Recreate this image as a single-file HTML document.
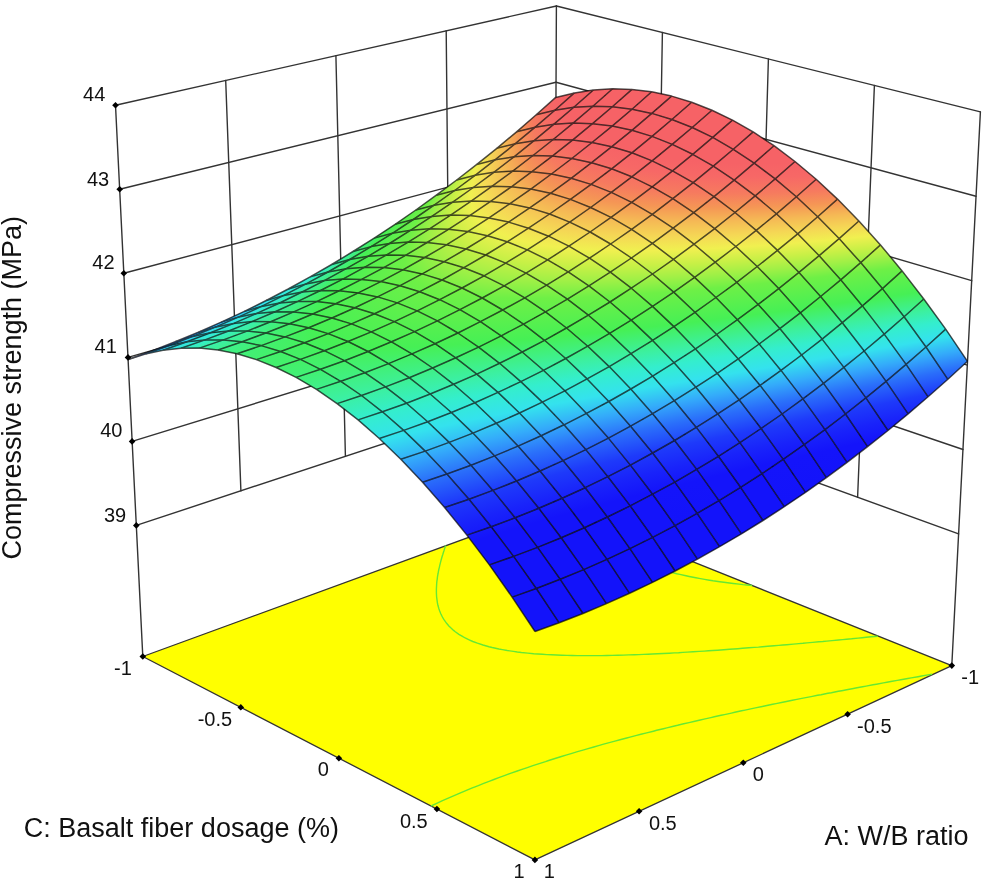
<!DOCTYPE html>
<html><head><meta charset="utf-8"><title>Response surface</title><style>html,body{margin:0;padding:0;background:#fff;width:982px;height:880px;overflow:hidden}</style></head>
<body><div style="position:relative;width:982px;height:880px"><svg width="982" height="880" viewBox="0 0 982 880" style="position:absolute;left:0;top:0"><defs><linearGradient id="g0" gradientUnits="userSpaceOnUse" x1="495.7" y1="563.0" x2="484.9" y2="528.7"><stop offset="0.000" stop-color="#1414fa"/><stop offset="0.757" stop-color="#1414fa"/><stop offset="1.000" stop-color="#161bfa"/></linearGradient><linearGradient id="g1" gradientUnits="userSpaceOnUse" x1="472.8" y1="533.3" x2="463.1" y2="501.0"><stop offset="0.000" stop-color="#161afa"/><stop offset="0.370" stop-color="#1923fa"/><stop offset="1.000" stop-color="#1e38fa"/></linearGradient><linearGradient id="g2" gradientUnits="userSpaceOnUse" x1="450.1" y1="506.0" x2="441.4" y2="475.6"><stop offset="0.000" stop-color="#1d37fa"/><stop offset="0.093" stop-color="#1e3afa"/><stop offset="0.953" stop-color="#2a6efa"/><stop offset="1.000" stop-color="#2b72fa"/></linearGradient><linearGradient id="g3" gradientUnits="userSpaceOnUse" x1="427.8" y1="480.9" x2="420.0" y2="452.5"><stop offset="0.000" stop-color="#2a6efa"/><stop offset="0.289" stop-color="#2e82fa"/><stop offset="0.876" stop-color="#34acfa"/><stop offset="1.000" stop-color="#34b4f8"/></linearGradient><linearGradient id="g4" gradientUnits="userSpaceOnUse" x1="405.7" y1="458.0" x2="398.9" y2="431.6"><stop offset="0.000" stop-color="#34b1f9"/><stop offset="0.829" stop-color="#34e2ee"/><stop offset="1.000" stop-color="#34e4e8"/></linearGradient><linearGradient id="g5" gradientUnits="userSpaceOnUse" x1="383.8" y1="437.4" x2="378.0" y2="412.9"><stop offset="0.000" stop-color="#34e3ea"/><stop offset="0.948" stop-color="#34eecd"/><stop offset="1.000" stop-color="#34eeca"/></linearGradient><linearGradient id="g6" gradientUnits="userSpaceOnUse" x1="362.2" y1="419.0" x2="357.3" y2="396.4"><stop offset="0.000" stop-color="#34eece"/><stop offset="0.050" stop-color="#34eecd"/><stop offset="1.000" stop-color="#3bf0a4"/></linearGradient><linearGradient id="g7" gradientUnits="userSpaceOnUse" x1="340.9" y1="402.9" x2="337.1" y2="382.0"><stop offset="0.000" stop-color="#3af0aa"/><stop offset="0.283" stop-color="#3cf0a0"/><stop offset="1.000" stop-color="#40f086"/></linearGradient><linearGradient id="g8" gradientUnits="userSpaceOnUse" x1="319.7" y1="389.0" x2="317.2" y2="369.7"><stop offset="0.000" stop-color="#3ff08c"/><stop offset="1.000" stop-color="#42f071"/></linearGradient><linearGradient id="g9" gradientUnits="userSpaceOnUse" x1="298.4" y1="377.3" x2="298.1" y2="359.4"><stop offset="0.000" stop-color="#41f078"/><stop offset="1.000" stop-color="#44f067"/></linearGradient><linearGradient id="g10" gradientUnits="userSpaceOnUse" x1="274.6" y1="367.8" x2="282.2" y2="351.1"><stop offset="0.000" stop-color="#43f06f"/><stop offset="1.000" stop-color="#44f067"/></linearGradient><linearGradient id="g11" gradientUnits="userSpaceOnUse" x1="244.5" y1="342.8" x2="273.2" y2="362.4"><stop offset="0.000" stop-color="#41f07a"/><stop offset="1.000" stop-color="#44f067"/></linearGradient><linearGradient id="g12" gradientUnits="userSpaceOnUse" x1="234.5" y1="339.7" x2="244.7" y2="355.9"><stop offset="0.000" stop-color="#3ef08f"/><stop offset="1.000" stop-color="#42f071"/></linearGradient><linearGradient id="g13" gradientUnits="userSpaceOnUse" x1="217.9" y1="339.1" x2="223.5" y2="350.8"><stop offset="0.000" stop-color="#3aefae"/><stop offset="0.367" stop-color="#3cf0a0"/><stop offset="1.000" stop-color="#3ff086"/></linearGradient><linearGradient id="g14" gradientUnits="userSpaceOnUse" x1="200.4" y1="339.9" x2="203.9" y2="348.2"><stop offset="0.000" stop-color="#34ecd2"/><stop offset="0.163" stop-color="#34eecd"/><stop offset="1.000" stop-color="#3bf0a4"/></linearGradient><linearGradient id="g15" gradientUnits="userSpaceOnUse" x1="182.9" y1="342.3" x2="185.1" y2="347.8"><stop offset="0.000" stop-color="#34e1ee"/><stop offset="0.015" stop-color="#34e2ee"/><stop offset="0.958" stop-color="#34eecd"/><stop offset="1.000" stop-color="#34eecb"/></linearGradient><linearGradient id="g16" gradientUnits="userSpaceOnUse" x1="165.5" y1="346.3" x2="166.7" y2="349.4"><stop offset="0.000" stop-color="#34a9fa"/><stop offset="0.043" stop-color="#34acfa"/><stop offset="0.848" stop-color="#34e2ee"/><stop offset="1.000" stop-color="#34e4e8"/></linearGradient><linearGradient id="g17" gradientUnits="userSpaceOnUse" x1="148.4" y1="352.1" x2="148.8" y2="352.9"><stop offset="0.000" stop-color="#296afa"/><stop offset="0.063" stop-color="#2a6efa"/><stop offset="0.325" stop-color="#2e82fa"/><stop offset="0.850" stop-color="#34acfa"/><stop offset="1.000" stop-color="#34b7f7"/></linearGradient><linearGradient id="g18" gradientUnits="userSpaceOnUse" x1="519.7" y1="554.6" x2="509.1" y2="519.6"><stop offset="0.000" stop-color="#1414fa"/><stop offset="0.715" stop-color="#1414fa"/><stop offset="1.000" stop-color="#171cfa"/></linearGradient><linearGradient id="g19" gradientUnits="userSpaceOnUse" x1="496.8" y1="525.1" x2="487.3" y2="492.0"><stop offset="0.000" stop-color="#161bfa"/><stop offset="0.332" stop-color="#1923fa"/><stop offset="0.990" stop-color="#1e3afa"/><stop offset="1.000" stop-color="#1e3bfa"/></linearGradient><linearGradient id="g20" gradientUnits="userSpaceOnUse" x1="474.2" y1="497.8" x2="465.7" y2="466.7"><stop offset="0.000" stop-color="#1e38fa"/><stop offset="0.054" stop-color="#1e3afa"/><stop offset="0.883" stop-color="#2a6efa"/><stop offset="1.000" stop-color="#2c77fa"/></linearGradient><linearGradient id="g21" gradientUnits="userSpaceOnUse" x1="451.8" y1="472.8" x2="444.3" y2="443.6"><stop offset="0.000" stop-color="#2b72fa"/><stop offset="0.231" stop-color="#2e82fa"/><stop offset="0.794" stop-color="#34acfa"/><stop offset="1.000" stop-color="#34bbf7"/></linearGradient><linearGradient id="g22" gradientUnits="userSpaceOnUse" x1="429.7" y1="450.0" x2="423.2" y2="422.8"><stop offset="0.000" stop-color="#34b4f8"/><stop offset="0.730" stop-color="#34e2ee"/><stop offset="1.000" stop-color="#34e6e4"/></linearGradient><linearGradient id="g23" gradientUnits="userSpaceOnUse" x1="407.8" y1="429.5" x2="402.3" y2="404.1"><stop offset="0.000" stop-color="#34e4e8"/><stop offset="0.816" stop-color="#34eecd"/><stop offset="1.000" stop-color="#36eec3"/></linearGradient><linearGradient id="g24" gradientUnits="userSpaceOnUse" x1="386.2" y1="411.1" x2="381.8" y2="387.6"><stop offset="0.000" stop-color="#34eeca"/><stop offset="0.919" stop-color="#3cf0a0"/><stop offset="1.000" stop-color="#3df09c"/></linearGradient><linearGradient id="g25" gradientUnits="userSpaceOnUse" x1="364.8" y1="395.0" x2="361.5" y2="373.2"><stop offset="0.000" stop-color="#3bf0a4"/><stop offset="0.114" stop-color="#3cf0a0"/><stop offset="1.000" stop-color="#41f07d"/></linearGradient><linearGradient id="g26" gradientUnits="userSpaceOnUse" x1="343.6" y1="381.1" x2="341.7" y2="360.9"><stop offset="0.000" stop-color="#40f086"/><stop offset="1.000" stop-color="#44f067"/></linearGradient><linearGradient id="g27" gradientUnits="userSpaceOnUse" x1="322.2" y1="369.3" x2="322.6" y2="350.7"><stop offset="0.000" stop-color="#42f071"/><stop offset="1.000" stop-color="#45f05d"/></linearGradient><linearGradient id="g28" gradientUnits="userSpaceOnUse" x1="299.5" y1="359.0" x2="305.5" y2="343.2"><stop offset="0.000" stop-color="#44f067"/><stop offset="1.000" stop-color="#45f05c"/></linearGradient><linearGradient id="g29" gradientUnits="userSpaceOnUse" x1="261.8" y1="341.4" x2="304.0" y2="347.0"><stop offset="0.000" stop-color="#42f071"/><stop offset="1.000" stop-color="#45f05c"/></linearGradient><linearGradient id="g30" gradientUnits="userSpaceOnUse" x1="255.5" y1="330.1" x2="271.7" y2="348.6"><stop offset="0.000" stop-color="#3ff086"/><stop offset="1.000" stop-color="#44f065"/></linearGradient><linearGradient id="g31" gradientUnits="userSpaceOnUse" x1="240.6" y1="329.6" x2="248.8" y2="343.3"><stop offset="0.000" stop-color="#3bf0a5"/><stop offset="0.114" stop-color="#3cf0a0"/><stop offset="1.000" stop-color="#41f07a"/></linearGradient><linearGradient id="g32" gradientUnits="userSpaceOnUse" x1="223.6" y1="330.6" x2="228.5" y2="340.4"><stop offset="0.000" stop-color="#34eecb"/><stop offset="0.850" stop-color="#3cf0a0"/><stop offset="1.000" stop-color="#3df098"/></linearGradient><linearGradient id="g33" gradientUnits="userSpaceOnUse" x1="206.3" y1="333.0" x2="209.3" y2="339.7"><stop offset="0.000" stop-color="#34e4e8"/><stop offset="0.751" stop-color="#34eecd"/><stop offset="1.000" stop-color="#37efbe"/></linearGradient><linearGradient id="g34" gradientUnits="userSpaceOnUse" x1="189.0" y1="337.1" x2="190.7" y2="341.1"><stop offset="0.000" stop-color="#34b4f8"/><stop offset="0.667" stop-color="#34e2ee"/><stop offset="1.000" stop-color="#34e7e0"/></linearGradient><linearGradient id="g35" gradientUnits="userSpaceOnUse" x1="171.9" y1="342.9" x2="172.6" y2="344.5"><stop offset="0.000" stop-color="#2b72fa"/><stop offset="0.197" stop-color="#2e82fa"/><stop offset="0.706" stop-color="#34acfa"/><stop offset="1.000" stop-color="#34c3f5"/></linearGradient><linearGradient id="g36" gradientUnits="userSpaceOnUse" x1="543.4" y1="545.7" x2="533.0" y2="509.9"><stop offset="0.000" stop-color="#1414fa"/><stop offset="0.652" stop-color="#1414fa"/><stop offset="1.000" stop-color="#171efa"/></linearGradient><linearGradient id="g37" gradientUnits="userSpaceOnUse" x1="520.5" y1="516.3" x2="511.2" y2="482.5"><stop offset="0.000" stop-color="#171cfa"/><stop offset="0.269" stop-color="#1923fa"/><stop offset="0.906" stop-color="#1e3afa"/><stop offset="1.000" stop-color="#2041fa"/></linearGradient><linearGradient id="g38" gradientUnits="userSpaceOnUse" x1="497.9" y1="489.1" x2="489.7" y2="457.2"><stop offset="0.000" stop-color="#1e3bfa"/><stop offset="0.789" stop-color="#2a6efa"/><stop offset="1.000" stop-color="#2d7ffa"/></linearGradient><linearGradient id="g39" gradientUnits="userSpaceOnUse" x1="475.5" y1="464.2" x2="468.3" y2="434.2"><stop offset="0.000" stop-color="#2c77fa"/><stop offset="0.145" stop-color="#2e82fa"/><stop offset="0.685" stop-color="#34acfa"/><stop offset="1.000" stop-color="#34c3f5"/></linearGradient><linearGradient id="g40" gradientUnits="userSpaceOnUse" x1="453.4" y1="441.4" x2="447.2" y2="413.4"><stop offset="0.000" stop-color="#34bbf7"/><stop offset="0.602" stop-color="#34e2ee"/><stop offset="1.000" stop-color="#34e8de"/></linearGradient><linearGradient id="g41" gradientUnits="userSpaceOnUse" x1="431.5" y1="420.9" x2="426.4" y2="394.8"><stop offset="0.000" stop-color="#34e6e4"/><stop offset="0.654" stop-color="#34eecd"/><stop offset="1.000" stop-color="#38efb9"/></linearGradient><linearGradient id="g42" gradientUnits="userSpaceOnUse" x1="409.9" y1="402.6" x2="405.8" y2="378.3"><stop offset="0.000" stop-color="#36eec3"/><stop offset="0.710" stop-color="#3cf0a0"/><stop offset="1.000" stop-color="#3ef091"/></linearGradient><linearGradient id="g43" gradientUnits="userSpaceOnUse" x1="388.5" y1="386.5" x2="385.6" y2="363.9"><stop offset="0.000" stop-color="#3df09c"/><stop offset="1.000" stop-color="#42f071"/></linearGradient><linearGradient id="g44" gradientUnits="userSpaceOnUse" x1="367.1" y1="372.6" x2="365.8" y2="351.7"><stop offset="0.000" stop-color="#41f07d"/><stop offset="1.000" stop-color="#45f05b"/></linearGradient><linearGradient id="g45" gradientUnits="userSpaceOnUse" x1="345.7" y1="360.7" x2="346.7" y2="341.5"><stop offset="0.000" stop-color="#44f067"/><stop offset="0.765" stop-color="#46f055"/><stop offset="1.000" stop-color="#48f054"/></linearGradient><linearGradient id="g46" gradientUnits="userSpaceOnUse" x1="323.4" y1="350.4" x2="329.1" y2="333.9"><stop offset="0.000" stop-color="#45f05d"/><stop offset="0.526" stop-color="#46f055"/><stop offset="1.000" stop-color="#49f054"/></linearGradient><linearGradient id="g47" gradientUnits="userSpaceOnUse" x1="286.5" y1="341.5" x2="326.7" y2="329.0"><stop offset="0.000" stop-color="#44f066"/><stop offset="0.698" stop-color="#46f055"/><stop offset="1.000" stop-color="#49f054"/></linearGradient><linearGradient id="g48" gradientUnits="userSpaceOnUse" x1="274.9" y1="321.1" x2="299.7" y2="339.6"><stop offset="0.000" stop-color="#41f07a"/><stop offset="1.000" stop-color="#46f057"/></linearGradient><linearGradient id="g49" gradientUnits="userSpaceOnUse" x1="262.4" y1="319.6" x2="274.2" y2="335.2"><stop offset="0.000" stop-color="#3df098"/><stop offset="1.000" stop-color="#43f06a"/></linearGradient><linearGradient id="g50" gradientUnits="userSpaceOnUse" x1="246.2" y1="320.7" x2="253.0" y2="332.1"><stop offset="0.000" stop-color="#37efbe"/><stop offset="0.576" stop-color="#3cf0a0"/><stop offset="1.000" stop-color="#3ff088"/></linearGradient><linearGradient id="g51" gradientUnits="userSpaceOnUse" x1="229.2" y1="323.2" x2="233.3" y2="331.2"><stop offset="0.000" stop-color="#34e7e0"/><stop offset="0.516" stop-color="#34eecd"/><stop offset="1.000" stop-color="#39efaf"/></linearGradient><linearGradient id="g52" gradientUnits="userSpaceOnUse" x1="212.1" y1="327.4" x2="214.4" y2="332.4"><stop offset="0.000" stop-color="#34c1f5"/><stop offset="0.460" stop-color="#34e2ee"/><stop offset="1.000" stop-color="#34ebd7"/></linearGradient><linearGradient id="g53" gradientUnits="userSpaceOnUse" x1="195.0" y1="333.2" x2="196.1" y2="335.6"><stop offset="0.000" stop-color="#2e80fa"/><stop offset="0.028" stop-color="#2e82fa"/><stop offset="0.523" stop-color="#34acfa"/><stop offset="1.000" stop-color="#34d3f1"/></linearGradient><linearGradient id="g54" gradientUnits="userSpaceOnUse" x1="566.7" y1="536.3" x2="556.6" y2="499.8"><stop offset="0.000" stop-color="#1414fa"/><stop offset="0.568" stop-color="#1414fa"/><stop offset="1.000" stop-color="#1821fa"/></linearGradient><linearGradient id="g55" gradientUnits="userSpaceOnUse" x1="543.9" y1="506.9" x2="534.9" y2="472.4"><stop offset="0.000" stop-color="#171efa"/><stop offset="0.185" stop-color="#1923fa"/><stop offset="0.802" stop-color="#1e3afa"/><stop offset="1.000" stop-color="#2149fa"/></linearGradient><linearGradient id="g56" gradientUnits="userSpaceOnUse" x1="521.3" y1="479.8" x2="513.3" y2="447.2"><stop offset="0.000" stop-color="#2041fa"/><stop offset="0.672" stop-color="#2a6efa"/><stop offset="0.906" stop-color="#2e82fa"/><stop offset="1.000" stop-color="#2f8afa"/></linearGradient><linearGradient id="g57" gradientUnits="userSpaceOnUse" x1="499.0" y1="455.0" x2="492.0" y2="424.3"><stop offset="0.000" stop-color="#2d7ffa"/><stop offset="0.033" stop-color="#2e82fa"/><stop offset="0.553" stop-color="#34acfa"/><stop offset="1.000" stop-color="#34cef2"/></linearGradient><linearGradient id="g58" gradientUnits="userSpaceOnUse" x1="476.8" y1="432.3" x2="471.0" y2="403.5"><stop offset="0.000" stop-color="#34c3f5"/><stop offset="0.448" stop-color="#34e2ee"/><stop offset="1.000" stop-color="#34ead7"/></linearGradient><linearGradient id="g59" gradientUnits="userSpaceOnUse" x1="454.9" y1="411.8" x2="450.1" y2="384.9"><stop offset="0.000" stop-color="#34e8de"/><stop offset="0.467" stop-color="#34eecd"/><stop offset="1.000" stop-color="#3aefac"/></linearGradient><linearGradient id="g60" gradientUnits="userSpaceOnUse" x1="433.3" y1="393.6" x2="429.6" y2="368.5"><stop offset="0.000" stop-color="#38efb9"/><stop offset="0.477" stop-color="#3cf0a0"/><stop offset="1.000" stop-color="#40f082"/></linearGradient><linearGradient id="g61" gradientUnits="userSpaceOnUse" x1="411.8" y1="377.5" x2="409.4" y2="354.1"><stop offset="0.000" stop-color="#3ef091"/><stop offset="1.000" stop-color="#44f062"/></linearGradient><linearGradient id="g62" gradientUnits="userSpaceOnUse" x1="390.4" y1="363.5" x2="389.6" y2="341.9"><stop offset="0.000" stop-color="#42f071"/><stop offset="0.742" stop-color="#46f055"/><stop offset="1.000" stop-color="#4af054"/></linearGradient><linearGradient id="g63" gradientUnits="userSpaceOnUse" x1="369.0" y1="351.6" x2="370.5" y2="331.8"><stop offset="0.000" stop-color="#45f05b"/><stop offset="0.211" stop-color="#46f055"/><stop offset="1.000" stop-color="#4ff052"/></linearGradient><linearGradient id="g64" gradientUnits="userSpaceOnUse" x1="347.0" y1="341.2" x2="352.5" y2="324.2"><stop offset="0.000" stop-color="#48f054"/><stop offset="1.000" stop-color="#4ff052"/></linearGradient><linearGradient id="g65" gradientUnits="userSpaceOnUse" x1="314.5" y1="336.3" x2="345.6" y2="315.2"><stop offset="0.000" stop-color="#46f057"/><stop offset="0.078" stop-color="#46f055"/><stop offset="1.000" stop-color="#4ff051"/></linearGradient><linearGradient id="g66" gradientUnits="userSpaceOnUse" x1="293.5" y1="313.9" x2="327.9" y2="327.8"><stop offset="0.000" stop-color="#43f06a"/><stop offset="0.582" stop-color="#46f055"/><stop offset="1.000" stop-color="#4cf053"/></linearGradient><linearGradient id="g67" gradientUnits="userSpaceOnUse" x1="283.3" y1="309.3" x2="299.9" y2="326.4"><stop offset="0.000" stop-color="#3ff088"/><stop offset="1.000" stop-color="#46f058"/></linearGradient><linearGradient id="g68" gradientUnits="userSpaceOnUse" x1="268.3" y1="310.2" x2="277.4" y2="323.3"><stop offset="0.000" stop-color="#39efaf"/><stop offset="0.274" stop-color="#3cf0a0"/><stop offset="1.000" stop-color="#42f075"/></linearGradient><linearGradient id="g69" gradientUnits="userSpaceOnUse" x1="251.7" y1="312.9" x2="257.2" y2="322.2"><stop offset="0.000" stop-color="#34ead7"/><stop offset="0.254" stop-color="#34eecd"/><stop offset="0.951" stop-color="#3cf0a0"/><stop offset="1.000" stop-color="#3cf09d"/></linearGradient><linearGradient id="g70" gradientUnits="userSpaceOnUse" x1="234.8" y1="317.1" x2="238.0" y2="323.2"><stop offset="0.000" stop-color="#34d1f2"/><stop offset="0.227" stop-color="#34e2ee"/><stop offset="0.967" stop-color="#34eecd"/><stop offset="1.000" stop-color="#34eecb"/></linearGradient><linearGradient id="g71" gradientUnits="userSpaceOnUse" x1="217.8" y1="322.9" x2="219.4" y2="326.3"><stop offset="0.000" stop-color="#3091fa"/><stop offset="0.313" stop-color="#34acfa"/><stop offset="0.966" stop-color="#34e2ee"/><stop offset="1.000" stop-color="#34e3ec"/></linearGradient><linearGradient id="g72" gradientUnits="userSpaceOnUse" x1="589.8" y1="526.3" x2="579.8" y2="489.1"><stop offset="0.000" stop-color="#1414fa"/><stop offset="0.466" stop-color="#1414fa"/><stop offset="0.960" stop-color="#1923fa"/><stop offset="1.000" stop-color="#1925fa"/></linearGradient><linearGradient id="g73" gradientUnits="userSpaceOnUse" x1="567.0" y1="497.0" x2="558.2" y2="461.8"><stop offset="0.000" stop-color="#1821fa"/><stop offset="0.081" stop-color="#1923fa"/><stop offset="0.679" stop-color="#1e3afa"/><stop offset="1.000" stop-color="#2453fa"/></linearGradient><linearGradient id="g74" gradientUnits="userSpaceOnUse" x1="544.4" y1="470.0" x2="536.7" y2="436.7"><stop offset="0.000" stop-color="#2149fa"/><stop offset="0.535" stop-color="#2a6efa"/><stop offset="0.761" stop-color="#2e82fa"/><stop offset="1.000" stop-color="#3198fa"/></linearGradient><linearGradient id="g75" gradientUnits="userSpaceOnUse" x1="522.1" y1="445.2" x2="515.4" y2="413.8"><stop offset="0.000" stop-color="#2f8afa"/><stop offset="0.399" stop-color="#34acfa"/><stop offset="1.000" stop-color="#34dcef"/></linearGradient><linearGradient id="g76" gradientUnits="userSpaceOnUse" x1="499.9" y1="422.6" x2="494.4" y2="393.1"><stop offset="0.000" stop-color="#34cef2"/><stop offset="0.273" stop-color="#34e2ee"/><stop offset="1.000" stop-color="#34eece"/></linearGradient><linearGradient id="g77" gradientUnits="userSpaceOnUse" x1="478.0" y1="402.2" x2="473.6" y2="374.6"><stop offset="0.000" stop-color="#34ead7"/><stop offset="0.258" stop-color="#34eecd"/><stop offset="0.958" stop-color="#3cf0a0"/><stop offset="1.000" stop-color="#3cf09d"/></linearGradient><linearGradient id="g78" gradientUnits="userSpaceOnUse" x1="456.3" y1="383.9" x2="453.1" y2="358.2"><stop offset="0.000" stop-color="#3aefac"/><stop offset="0.224" stop-color="#3cf0a0"/><stop offset="1.000" stop-color="#42f072"/></linearGradient><linearGradient id="g79" gradientUnits="userSpaceOnUse" x1="434.8" y1="367.8" x2="432.9" y2="343.9"><stop offset="0.000" stop-color="#40f082"/><stop offset="0.906" stop-color="#46f055"/><stop offset="1.000" stop-color="#48f054"/></linearGradient><linearGradient id="g80" gradientUnits="userSpaceOnUse" x1="413.5" y1="353.9" x2="413.1" y2="331.7"><stop offset="0.000" stop-color="#44f062"/><stop offset="0.316" stop-color="#46f055"/><stop offset="1.000" stop-color="#51f051"/></linearGradient><linearGradient id="g81" gradientUnits="userSpaceOnUse" x1="392.1" y1="341.9" x2="393.9" y2="321.6"><stop offset="0.000" stop-color="#4af054"/><stop offset="1.000" stop-color="#56f04f"/></linearGradient><linearGradient id="g82" gradientUnits="userSpaceOnUse" x1="370.3" y1="331.5" x2="375.6" y2="314.0"><stop offset="0.000" stop-color="#4ff052"/><stop offset="1.000" stop-color="#57f04f"/></linearGradient><linearGradient id="g83" gradientUnits="userSpaceOnUse" x1="341.4" y1="327.5" x2="365.0" y2="304.1"><stop offset="0.000" stop-color="#4cf053"/><stop offset="1.000" stop-color="#57f04f"/></linearGradient><linearGradient id="g84" gradientUnits="userSpaceOnUse" x1="313.2" y1="308.7" x2="354.4" y2="313.0"><stop offset="0.000" stop-color="#46f058"/><stop offset="0.088" stop-color="#46f055"/><stop offset="1.000" stop-color="#54f050"/></linearGradient><linearGradient id="g85" gradientUnits="userSpaceOnUse" x1="303.3" y1="299.2" x2="326.0" y2="316.4"><stop offset="0.000" stop-color="#42f075"/><stop offset="0.650" stop-color="#46f055"/><stop offset="1.000" stop-color="#4df052"/></linearGradient><linearGradient id="g86" gradientUnits="userSpaceOnUse" x1="289.7" y1="299.4" x2="302.0" y2="313.9"><stop offset="0.000" stop-color="#3cf09d"/><stop offset="1.000" stop-color="#45f060"/></linearGradient><linearGradient id="g87" gradientUnits="userSpaceOnUse" x1="273.8" y1="302.0" x2="281.0" y2="312.7"><stop offset="0.000" stop-color="#34eecb"/><stop offset="0.644" stop-color="#3cf0a0"/><stop offset="1.000" stop-color="#3ff086"/></linearGradient><linearGradient id="g88" gradientUnits="userSpaceOnUse" x1="257.1" y1="306.3" x2="261.3" y2="313.6"><stop offset="0.000" stop-color="#34e2ed"/><stop offset="0.693" stop-color="#34eecd"/><stop offset="1.000" stop-color="#38efb5"/></linearGradient><linearGradient id="g89" gradientUnits="userSpaceOnUse" x1="240.2" y1="312.1" x2="242.5" y2="316.4"><stop offset="0.000" stop-color="#33a5fa"/><stop offset="0.081" stop-color="#34acfa"/><stop offset="0.719" stop-color="#34e2ee"/><stop offset="1.000" stop-color="#34e7df"/></linearGradient><linearGradient id="g90" gradientUnits="userSpaceOnUse" x1="612.5" y1="515.7" x2="602.8" y2="478.0"><stop offset="0.000" stop-color="#1414fa"/><stop offset="0.348" stop-color="#1414fa"/><stop offset="0.828" stop-color="#1923fa"/><stop offset="1.000" stop-color="#1b2afa"/></linearGradient><linearGradient id="g91" gradientUnits="userSpaceOnUse" x1="589.8" y1="486.6" x2="581.2" y2="450.7"><stop offset="0.000" stop-color="#1925fa"/><stop offset="0.539" stop-color="#1e3afa"/><stop offset="1.000" stop-color="#265efa"/></linearGradient><linearGradient id="g92" gradientUnits="userSpaceOnUse" x1="567.2" y1="459.7" x2="559.8" y2="425.7"><stop offset="0.000" stop-color="#2453fa"/><stop offset="0.381" stop-color="#2a6efa"/><stop offset="0.599" stop-color="#2e82fa"/><stop offset="1.000" stop-color="#33a8fa"/></linearGradient><linearGradient id="g93" gradientUnits="userSpaceOnUse" x1="544.9" y1="434.9" x2="538.5" y2="402.9"><stop offset="0.000" stop-color="#3198fa"/><stop offset="0.227" stop-color="#34acfa"/><stop offset="0.877" stop-color="#34e2ee"/><stop offset="1.000" stop-color="#34e4e8"/></linearGradient><linearGradient id="g94" gradientUnits="userSpaceOnUse" x1="522.8" y1="412.4" x2="517.5" y2="382.2"><stop offset="0.000" stop-color="#34dcef"/><stop offset="0.079" stop-color="#34e2ee"/><stop offset="0.804" stop-color="#34eecd"/><stop offset="1.000" stop-color="#37efbe"/></linearGradient><linearGradient id="g95" gradientUnits="userSpaceOnUse" x1="500.9" y1="392.0" x2="496.7" y2="363.7"><stop offset="0.000" stop-color="#34eece"/><stop offset="0.031" stop-color="#34eecd"/><stop offset="0.698" stop-color="#3cf0a0"/><stop offset="1.000" stop-color="#3ff08a"/></linearGradient><linearGradient id="g96" gradientUnits="userSpaceOnUse" x1="479.2" y1="373.8" x2="476.2" y2="347.3"><stop offset="0.000" stop-color="#3cf09d"/><stop offset="1.000" stop-color="#45f05e"/></linearGradient><linearGradient id="g97" gradientUnits="userSpaceOnUse" x1="457.6" y1="357.7" x2="456.0" y2="333.1"><stop offset="0.000" stop-color="#42f072"/><stop offset="0.532" stop-color="#46f055"/><stop offset="1.000" stop-color="#50f051"/></linearGradient><linearGradient id="g98" gradientUnits="userSpaceOnUse" x1="436.2" y1="343.7" x2="436.2" y2="320.9"><stop offset="0.000" stop-color="#48f054"/><stop offset="1.000" stop-color="#59f04e"/></linearGradient><linearGradient id="g99" gradientUnits="userSpaceOnUse" x1="414.8" y1="331.7" x2="416.9" y2="310.9"><stop offset="0.000" stop-color="#51f051"/><stop offset="1.000" stop-color="#5ff04c"/></linearGradient><linearGradient id="g100" gradientUnits="userSpaceOnUse" x1="393.2" y1="321.3" x2="398.5" y2="303.3"><stop offset="0.000" stop-color="#56f04f"/><stop offset="1.000" stop-color="#60f04b"/></linearGradient><linearGradient id="g101" gradientUnits="userSpaceOnUse" x1="366.8" y1="317.1" x2="385.4" y2="293.5"><stop offset="0.000" stop-color="#54f050"/><stop offset="1.000" stop-color="#60f04b"/></linearGradient><linearGradient id="g102" gradientUnits="userSpaceOnUse" x1="335.6" y1="303.8" x2="377.6" y2="296.8"><stop offset="0.000" stop-color="#4df052"/><stop offset="1.000" stop-color="#5df04c"/></linearGradient><linearGradient id="g103" gradientUnits="userSpaceOnUse" x1="322.6" y1="289.7" x2="352.3" y2="304.7"><stop offset="0.000" stop-color="#45f060"/><stop offset="0.211" stop-color="#46f055"/><stop offset="1.000" stop-color="#56f04f"/></linearGradient><linearGradient id="g104" gradientUnits="userSpaceOnUse" x1="310.4" y1="288.3" x2="326.7" y2="303.8"><stop offset="0.000" stop-color="#3ff087"/><stop offset="0.787" stop-color="#46f055"/><stop offset="1.000" stop-color="#4bf053"/></linearGradient><linearGradient id="g105" gradientUnits="userSpaceOnUse" x1="295.3" y1="290.7" x2="304.7" y2="302.8"><stop offset="0.000" stop-color="#38efb6"/><stop offset="0.317" stop-color="#3cf0a0"/><stop offset="1.000" stop-color="#43f06d"/></linearGradient><linearGradient id="g106" gradientUnits="userSpaceOnUse" x1="279.0" y1="294.9" x2="284.6" y2="303.5"><stop offset="0.000" stop-color="#34e7e0"/><stop offset="0.399" stop-color="#34eecd"/><stop offset="0.971" stop-color="#3cf0a0"/><stop offset="1.000" stop-color="#3cf09e"/></linearGradient><linearGradient id="g107" gradientUnits="userSpaceOnUse" x1="262.3" y1="300.8" x2="265.5" y2="306.2"><stop offset="0.000" stop-color="#34bbf7"/><stop offset="0.452" stop-color="#34e2ee"/><stop offset="1.000" stop-color="#34edd1"/></linearGradient><linearGradient id="g108" gradientUnits="userSpaceOnUse" x1="635.0" y1="504.7" x2="625.5" y2="466.3"><stop offset="0.000" stop-color="#1414fa"/><stop offset="0.214" stop-color="#1414fa"/><stop offset="0.682" stop-color="#1923fa"/><stop offset="1.000" stop-color="#1c31fa"/></linearGradient><linearGradient id="g109" gradientUnits="userSpaceOnUse" x1="612.3" y1="475.7" x2="604.0" y2="439.1"><stop offset="0.000" stop-color="#1b2afa"/><stop offset="0.383" stop-color="#1e3afa"/><stop offset="1.000" stop-color="#2a6cfa"/></linearGradient><linearGradient id="g110" gradientUnits="userSpaceOnUse" x1="589.8" y1="448.8" x2="582.6" y2="414.2"><stop offset="0.000" stop-color="#265efa"/><stop offset="0.211" stop-color="#2a6efa"/><stop offset="0.422" stop-color="#2e82fa"/><stop offset="0.845" stop-color="#34acfa"/><stop offset="1.000" stop-color="#34bbf7"/></linearGradient><linearGradient id="g111" gradientUnits="userSpaceOnUse" x1="567.4" y1="424.1" x2="561.4" y2="391.4"><stop offset="0.000" stop-color="#33a8fa"/><stop offset="0.039" stop-color="#34acfa"/><stop offset="0.666" stop-color="#34e2ee"/><stop offset="1.000" stop-color="#34e8dc"/></linearGradient><linearGradient id="g112" gradientUnits="userSpaceOnUse" x1="545.3" y1="401.6" x2="540.4" y2="370.8"><stop offset="0.000" stop-color="#34e4e8"/><stop offset="0.564" stop-color="#34eecd"/><stop offset="1.000" stop-color="#3af0aa"/></linearGradient><linearGradient id="g113" gradientUnits="userSpaceOnUse" x1="523.4" y1="381.3" x2="519.6" y2="352.4"><stop offset="0.000" stop-color="#37efbe"/><stop offset="0.425" stop-color="#3cf0a0"/><stop offset="1.000" stop-color="#42f074"/></linearGradient><linearGradient id="g114" gradientUnits="userSpaceOnUse" x1="501.7" y1="363.1" x2="499.1" y2="336.0"><stop offset="0.000" stop-color="#3ff08a"/><stop offset="0.795" stop-color="#46f055"/><stop offset="1.000" stop-color="#4bf053"/></linearGradient><linearGradient id="g115" gradientUnits="userSpaceOnUse" x1="480.2" y1="347.0" x2="478.9" y2="321.8"><stop offset="0.000" stop-color="#45f05e"/><stop offset="0.155" stop-color="#46f055"/><stop offset="1.000" stop-color="#59f04e"/></linearGradient><linearGradient id="g116" gradientUnits="userSpaceOnUse" x1="458.8" y1="333.0" x2="459.1" y2="309.7"><stop offset="0.000" stop-color="#50f051"/><stop offset="1.000" stop-color="#63f04a"/></linearGradient><linearGradient id="g117" gradientUnits="userSpaceOnUse" x1="437.4" y1="320.9" x2="439.7" y2="299.7"><stop offset="0.000" stop-color="#59f04e"/><stop offset="1.000" stop-color="#68f048"/></linearGradient><linearGradient id="g118" gradientUnits="userSpaceOnUse" x1="415.9" y1="310.6" x2="421.0" y2="292.1"><stop offset="0.000" stop-color="#5ff04c"/><stop offset="1.000" stop-color="#6af048"/></linearGradient><linearGradient id="g119" gradientUnits="userSpaceOnUse" x1="391.0" y1="305.8" x2="406.3" y2="282.8"><stop offset="0.000" stop-color="#5df04c"/><stop offset="1.000" stop-color="#6af048"/></linearGradient><linearGradient id="g120" gradientUnits="userSpaceOnUse" x1="360.0" y1="297.1" x2="398.3" y2="281.4"><stop offset="0.000" stop-color="#56f04f"/><stop offset="1.000" stop-color="#67f049"/></linearGradient><linearGradient id="g121" gradientUnits="userSpaceOnUse" x1="341.8" y1="281.2" x2="378.1" y2="291.1"><stop offset="0.000" stop-color="#4bf053"/><stop offset="1.000" stop-color="#61f04b"/></linearGradient><linearGradient id="g122" gradientUnits="userSpaceOnUse" x1="330.4" y1="277.1" x2="351.6" y2="292.8"><stop offset="0.000" stop-color="#43f06e"/><stop offset="0.378" stop-color="#46f055"/><stop offset="1.000" stop-color="#56f04f"/></linearGradient><linearGradient id="g123" gradientUnits="userSpaceOnUse" x1="316.3" y1="278.9" x2="328.5" y2="292.2"><stop offset="0.000" stop-color="#3cf09e"/><stop offset="0.956" stop-color="#46f055"/><stop offset="1.000" stop-color="#47f055"/></linearGradient><linearGradient id="g124" gradientUnits="userSpaceOnUse" x1="300.5" y1="283.1" x2="307.8" y2="292.9"><stop offset="0.000" stop-color="#34ecd1"/><stop offset="0.087" stop-color="#34eecd"/><stop offset="0.645" stop-color="#3cf0a0"/><stop offset="1.000" stop-color="#40f081"/></linearGradient><linearGradient id="g125" gradientUnits="userSpaceOnUse" x1="284.0" y1="288.9" x2="288.2" y2="295.5"><stop offset="0.000" stop-color="#34d3f1"/><stop offset="0.167" stop-color="#34e2ee"/><stop offset="0.776" stop-color="#34eecd"/><stop offset="1.000" stop-color="#38efb9"/></linearGradient><linearGradient id="g126" gradientUnits="userSpaceOnUse" x1="680.1" y1="524.3" x2="669.6" y2="483.4"><stop offset="0.000" stop-color="#1313fa"/><stop offset="0.909" stop-color="#1414fa"/><stop offset="1.000" stop-color="#1517fa"/></linearGradient><linearGradient id="g127" gradientUnits="userSpaceOnUse" x1="657.2" y1="493.1" x2="648.0" y2="454.1"><stop offset="0.000" stop-color="#1414fa"/><stop offset="0.066" stop-color="#1414fa"/><stop offset="0.521" stop-color="#1923fa"/><stop offset="1.000" stop-color="#1e39fa"/></linearGradient><linearGradient id="g128" gradientUnits="userSpaceOnUse" x1="634.5" y1="464.2" x2="626.5" y2="427.1"><stop offset="0.000" stop-color="#1c31fa"/><stop offset="0.213" stop-color="#1e3afa"/><stop offset="0.836" stop-color="#2a6efa"/><stop offset="1.000" stop-color="#2d7ffa"/></linearGradient><linearGradient id="g129" gradientUnits="userSpaceOnUse" x1="612.0" y1="437.4" x2="605.1" y2="402.2"><stop offset="0.000" stop-color="#2a6cfa"/><stop offset="0.026" stop-color="#2a6efa"/><stop offset="0.230" stop-color="#2e82fa"/><stop offset="0.640" stop-color="#34acfa"/><stop offset="1.000" stop-color="#34cff2"/></linearGradient><linearGradient id="g130" gradientUnits="userSpaceOnUse" x1="589.7" y1="412.8" x2="583.9" y2="379.5"><stop offset="0.000" stop-color="#34bbf7"/><stop offset="0.441" stop-color="#34e2ee"/><stop offset="1.000" stop-color="#34edcf"/></linearGradient><linearGradient id="g131" gradientUnits="userSpaceOnUse" x1="567.6" y1="390.4" x2="562.9" y2="358.9"><stop offset="0.000" stop-color="#34e8dc"/><stop offset="0.312" stop-color="#34eecd"/><stop offset="0.857" stop-color="#3cf0a0"/><stop offset="1.000" stop-color="#3ef093"/></linearGradient><linearGradient id="g132" gradientUnits="userSpaceOnUse" x1="545.7" y1="370.1" x2="542.2" y2="340.5"><stop offset="0.000" stop-color="#3af0aa"/><stop offset="0.141" stop-color="#3cf0a0"/><stop offset="1.000" stop-color="#45f05c"/></linearGradient><linearGradient id="g133" gradientUnits="userSpaceOnUse" x1="524.0" y1="351.9" x2="521.7" y2="324.2"><stop offset="0.000" stop-color="#42f074"/><stop offset="0.444" stop-color="#46f055"/><stop offset="1.000" stop-color="#55f04f"/></linearGradient><linearGradient id="g134" gradientUnits="userSpaceOnUse" x1="502.4" y1="335.8" x2="501.5" y2="310.1"><stop offset="0.000" stop-color="#4bf053"/><stop offset="1.000" stop-color="#63f04a"/></linearGradient><linearGradient id="g135" gradientUnits="userSpaceOnUse" x1="481.0" y1="321.7" x2="481.6" y2="298.0"><stop offset="0.000" stop-color="#59f04e"/><stop offset="1.000" stop-color="#6df046"/></linearGradient><linearGradient id="g136" gradientUnits="userSpaceOnUse" x1="459.7" y1="309.7" x2="462.2" y2="288.0"><stop offset="0.000" stop-color="#63f04a"/><stop offset="0.695" stop-color="#6ef046"/><stop offset="1.000" stop-color="#7cf046"/></linearGradient><linearGradient id="g137" gradientUnits="userSpaceOnUse" x1="438.3" y1="299.3" x2="443.4" y2="280.3"><stop offset="0.000" stop-color="#68f048"/><stop offset="0.463" stop-color="#6ef046"/><stop offset="1.000" stop-color="#81f046"/></linearGradient><linearGradient id="g138" gradientUnits="userSpaceOnUse" x1="414.5" y1="294.0" x2="427.5" y2="271.6"><stop offset="0.000" stop-color="#67f049"/><stop offset="0.495" stop-color="#6ef046"/><stop offset="1.000" stop-color="#82f046"/></linearGradient><linearGradient id="g139" gradientUnits="userSpaceOnUse" x1="384.9" y1="288.3" x2="418.0" y2="267.2"><stop offset="0.000" stop-color="#61f04b"/><stop offset="0.744" stop-color="#6ef046"/><stop offset="1.000" stop-color="#7bf046"/></linearGradient><linearGradient id="g140" gradientUnits="userSpaceOnUse" x1="361.9" y1="273.4" x2="402.4" y2="275.8"><stop offset="0.000" stop-color="#56f04f"/><stop offset="1.000" stop-color="#6cf047"/></linearGradient><linearGradient id="g141" gradientUnits="userSpaceOnUse" x1="349.9" y1="266.1" x2="376.6" y2="280.6"><stop offset="0.000" stop-color="#47f055"/><stop offset="1.000" stop-color="#62f04b"/></linearGradient><linearGradient id="g142" gradientUnits="userSpaceOnUse" x1="336.7" y1="266.8" x2="352.4" y2="281.0"><stop offset="0.000" stop-color="#40f081"/><stop offset="0.565" stop-color="#46f055"/><stop offset="1.000" stop-color="#53f050"/></linearGradient><linearGradient id="g143" gradientUnits="userSpaceOnUse" x1="321.5" y1="270.8" x2="330.9" y2="281.8"><stop offset="0.000" stop-color="#38efb9"/><stop offset="0.302" stop-color="#3cf0a0"/><stop offset="1.000" stop-color="#44f062"/></linearGradient><linearGradient id="g144" gradientUnits="userSpaceOnUse" x1="305.3" y1="276.6" x2="310.9" y2="284.3"><stop offset="0.000" stop-color="#34e5e7"/><stop offset="0.461" stop-color="#34eecd"/><stop offset="0.947" stop-color="#3cf0a0"/><stop offset="1.000" stop-color="#3df09b"/></linearGradient><linearGradient id="g145" gradientUnits="userSpaceOnUse" x1="702.0" y1="512.1" x2="691.8" y2="470.6"><stop offset="0.000" stop-color="#1313fa"/><stop offset="0.743" stop-color="#1414fa"/><stop offset="1.000" stop-color="#171dfa"/></linearGradient><linearGradient id="g146" gradientUnits="userSpaceOnUse" x1="679.2" y1="481.1" x2="670.2" y2="441.5"><stop offset="0.000" stop-color="#1517fa"/><stop offset="0.349" stop-color="#1923fa"/><stop offset="0.843" stop-color="#1e3afa"/><stop offset="1.000" stop-color="#2148fa"/></linearGradient><linearGradient id="g147" gradientUnits="userSpaceOnUse" x1="656.5" y1="452.2" x2="648.7" y2="414.5"><stop offset="0.000" stop-color="#1e39fa"/><stop offset="0.031" stop-color="#1e3afa"/><stop offset="0.636" stop-color="#2a6efa"/><stop offset="0.819" stop-color="#2e82fa"/><stop offset="1.000" stop-color="#3197fa"/></linearGradient><linearGradient id="g148" gradientUnits="userSpaceOnUse" x1="634.0" y1="425.5" x2="627.4" y2="389.7"><stop offset="0.000" stop-color="#2d7ffa"/><stop offset="0.026" stop-color="#2e82fa"/><stop offset="0.423" stop-color="#34acfa"/><stop offset="0.959" stop-color="#34e2ee"/><stop offset="1.000" stop-color="#34e3eb"/></linearGradient><linearGradient id="g149" gradientUnits="userSpaceOnUse" x1="611.7" y1="401.0" x2="606.2" y2="367.0"><stop offset="0.000" stop-color="#34cff2"/><stop offset="0.204" stop-color="#34e2ee"/><stop offset="0.788" stop-color="#34eecd"/><stop offset="1.000" stop-color="#38efb9"/></linearGradient><linearGradient id="g150" gradientUnits="userSpaceOnUse" x1="589.6" y1="378.6" x2="585.3" y2="346.6"><stop offset="0.000" stop-color="#34edcf"/><stop offset="0.049" stop-color="#34eecd"/><stop offset="0.573" stop-color="#3cf0a0"/><stop offset="1.000" stop-color="#41f078"/></linearGradient><linearGradient id="g151" gradientUnits="userSpaceOnUse" x1="567.7" y1="358.3" x2="564.5" y2="328.2"><stop offset="0.000" stop-color="#3ef093"/><stop offset="0.749" stop-color="#46f055"/><stop offset="1.000" stop-color="#4ef052"/></linearGradient><linearGradient id="g152" gradientUnits="userSpaceOnUse" x1="546.0" y1="340.1" x2="544.0" y2="312.0"><stop offset="0.000" stop-color="#45f05c"/><stop offset="0.089" stop-color="#46f055"/><stop offset="1.000" stop-color="#60f04b"/></linearGradient><linearGradient id="g153" gradientUnits="userSpaceOnUse" x1="524.5" y1="324.1" x2="523.8" y2="297.8"><stop offset="0.000" stop-color="#55f04f"/><stop offset="0.974" stop-color="#6ef046"/><stop offset="1.000" stop-color="#70f046"/></linearGradient><linearGradient id="g154" gradientUnits="userSpaceOnUse" x1="503.1" y1="310.0" x2="503.9" y2="285.7"><stop offset="0.000" stop-color="#63f04a"/><stop offset="0.498" stop-color="#6ef046"/><stop offset="1.000" stop-color="#8df046"/></linearGradient><linearGradient id="g155" gradientUnits="userSpaceOnUse" x1="481.7" y1="297.9" x2="484.4" y2="275.8"><stop offset="0.000" stop-color="#6df046"/><stop offset="0.048" stop-color="#6ef046"/><stop offset="1.000" stop-color="#9ff046"/></linearGradient><linearGradient id="g156" gradientUnits="userSpaceOnUse" x1="460.4" y1="287.6" x2="465.5" y2="268.1"><stop offset="0.000" stop-color="#7cf046"/><stop offset="0.890" stop-color="#a0f046"/><stop offset="1.000" stop-color="#a4f046"/></linearGradient><linearGradient id="g157" gradientUnits="userSpaceOnUse" x1="437.4" y1="281.8" x2="448.7" y2="259.9"><stop offset="0.000" stop-color="#7bf046"/><stop offset="0.884" stop-color="#a0f046"/><stop offset="1.000" stop-color="#a4f046"/></linearGradient><linearGradient id="g158" gradientUnits="userSpaceOnUse" x1="409.4" y1="277.6" x2="437.5" y2="253.8"><stop offset="0.000" stop-color="#6cf047"/><stop offset="0.094" stop-color="#6ef046"/><stop offset="1.000" stop-color="#9ff046"/></linearGradient><linearGradient id="g159" gradientUnits="userSpaceOnUse" x1="383.4" y1="265.5" x2="425.0" y2="259.6"><stop offset="0.000" stop-color="#62f04b"/><stop offset="0.526" stop-color="#6ef046"/><stop offset="1.000" stop-color="#8ef046"/></linearGradient><linearGradient id="g160" gradientUnits="userSpaceOnUse" x1="369.0" y1="255.5" x2="401.3" y2="267.0"><stop offset="0.000" stop-color="#53f050"/><stop offset="0.970" stop-color="#6ef046"/><stop offset="1.000" stop-color="#70f046"/></linearGradient><linearGradient id="g161" gradientUnits="userSpaceOnUse" x1="356.5" y1="254.6" x2="376.3" y2="269.0"><stop offset="0.000" stop-color="#44f062"/><stop offset="0.160" stop-color="#46f055"/><stop offset="1.000" stop-color="#61f04b"/></linearGradient><linearGradient id="g162" gradientUnits="userSpaceOnUse" x1="342.0" y1="258.1" x2="354.0" y2="270.2"><stop offset="0.000" stop-color="#3df09b"/><stop offset="0.765" stop-color="#46f055"/><stop offset="1.000" stop-color="#4ef052"/></linearGradient><linearGradient id="g163" gradientUnits="userSpaceOnUse" x1="326.3" y1="263.8" x2="333.4" y2="272.7"><stop offset="0.000" stop-color="#34ebd4"/><stop offset="0.132" stop-color="#34eecd"/><stop offset="0.607" stop-color="#3cf0a0"/><stop offset="1.000" stop-color="#41f078"/></linearGradient><linearGradient id="g164" gradientUnits="userSpaceOnUse" x1="723.7" y1="499.4" x2="713.7" y2="457.4"><stop offset="0.000" stop-color="#1414fa"/><stop offset="0.566" stop-color="#1414fa"/><stop offset="0.971" stop-color="#1923fa"/><stop offset="1.000" stop-color="#1924fa"/></linearGradient><linearGradient id="g165" gradientUnits="userSpaceOnUse" x1="700.9" y1="468.5" x2="692.1" y2="428.3"><stop offset="0.000" stop-color="#171dfa"/><stop offset="0.165" stop-color="#1923fa"/><stop offset="0.646" stop-color="#1e3afa"/><stop offset="1.000" stop-color="#265cfa"/></linearGradient><linearGradient id="g166" gradientUnits="userSpaceOnUse" x1="678.3" y1="439.7" x2="670.7" y2="401.4"><stop offset="0.000" stop-color="#2148fa"/><stop offset="0.424" stop-color="#2a6efa"/><stop offset="0.603" stop-color="#2e82fa"/><stop offset="0.959" stop-color="#34acfa"/><stop offset="1.000" stop-color="#34b1f9"/></linearGradient><linearGradient id="g167" gradientUnits="userSpaceOnUse" x1="655.8" y1="413.1" x2="649.4" y2="376.7"><stop offset="0.000" stop-color="#3197fa"/><stop offset="0.195" stop-color="#34acfa"/><stop offset="0.715" stop-color="#34e2ee"/><stop offset="1.000" stop-color="#34e9dc"/></linearGradient><linearGradient id="g168" gradientUnits="userSpaceOnUse" x1="633.5" y1="388.6" x2="628.3" y2="354.1"><stop offset="0.000" stop-color="#34e3eb"/><stop offset="0.522" stop-color="#34eecd"/><stop offset="0.982" stop-color="#3cf0a0"/><stop offset="1.000" stop-color="#3cf09e"/></linearGradient><linearGradient id="g169" gradientUnits="userSpaceOnUse" x1="611.4" y1="366.3" x2="607.3" y2="333.7"><stop offset="0.000" stop-color="#38efb9"/><stop offset="0.281" stop-color="#3cf0a0"/><stop offset="1.000" stop-color="#45f05b"/></linearGradient><linearGradient id="g170" gradientUnits="userSpaceOnUse" x1="589.5" y1="346.0" x2="586.6" y2="315.4"><stop offset="0.000" stop-color="#41f078"/><stop offset="0.409" stop-color="#46f055"/><stop offset="1.000" stop-color="#5af04d"/></linearGradient><linearGradient id="g171" gradientUnits="userSpaceOnUse" x1="567.8" y1="327.9" x2="566.1" y2="299.2"><stop offset="0.000" stop-color="#4ef052"/><stop offset="1.000" stop-color="#6df046"/></linearGradient><linearGradient id="g172" gradientUnits="userSpaceOnUse" x1="546.3" y1="311.8" x2="545.9" y2="285.1"><stop offset="0.000" stop-color="#60f04b"/><stop offset="0.507" stop-color="#6ef046"/><stop offset="1.000" stop-color="#94f046"/></linearGradient><linearGradient id="g173" gradientUnits="userSpaceOnUse" x1="524.9" y1="297.8" x2="526.0" y2="273.0"><stop offset="0.000" stop-color="#70f046"/><stop offset="0.731" stop-color="#a0f046"/><stop offset="1.000" stop-color="#b0f046"/></linearGradient><linearGradient id="g174" gradientUnits="userSpaceOnUse" x1="503.6" y1="285.7" x2="506.4" y2="263.1"><stop offset="0.000" stop-color="#8df046"/><stop offset="0.345" stop-color="#a0f046"/><stop offset="1.000" stop-color="#c0f046"/></linearGradient><linearGradient id="g175" gradientUnits="userSpaceOnUse" x1="482.3" y1="275.3" x2="487.3" y2="255.4"><stop offset="0.000" stop-color="#9ff046"/><stop offset="0.033" stop-color="#a0f046"/><stop offset="1.000" stop-color="#c6f046"/></linearGradient><linearGradient id="g176" gradientUnits="userSpaceOnUse" x1="459.9" y1="269.1" x2="470.0" y2="247.6"><stop offset="0.000" stop-color="#9ff046"/><stop offset="0.023" stop-color="#a0f046"/><stop offset="1.000" stop-color="#c6f046"/></linearGradient><linearGradient id="g177" gradientUnits="userSpaceOnUse" x1="433.3" y1="265.8" x2="457.3" y2="240.7"><stop offset="0.000" stop-color="#8df046"/><stop offset="0.327" stop-color="#a0f046"/><stop offset="1.000" stop-color="#c2f046"/></linearGradient><linearGradient id="g178" gradientUnits="userSpaceOnUse" x1="405.9" y1="256.6" x2="445.9" y2="243.5"><stop offset="0.000" stop-color="#70f046"/><stop offset="0.691" stop-color="#a0f046"/><stop offset="1.000" stop-color="#b3f046"/></linearGradient><linearGradient id="g179" gradientUnits="userSpaceOnUse" x1="388.3" y1="245.4" x2="425.4" y2="252.0"><stop offset="0.000" stop-color="#61f04b"/><stop offset="0.472" stop-color="#6ef046"/><stop offset="1.000" stop-color="#99f046"/></linearGradient><linearGradient id="g180" gradientUnits="userSpaceOnUse" x1="375.8" y1="242.4" x2="400.3" y2="256.1"><stop offset="0.000" stop-color="#4ef052"/><stop offset="0.968" stop-color="#6ef046"/><stop offset="1.000" stop-color="#71f046"/></linearGradient><linearGradient id="g181" gradientUnits="userSpaceOnUse" x1="362.0" y1="245.1" x2="377.1" y2="258.0"><stop offset="0.000" stop-color="#41f078"/><stop offset="0.374" stop-color="#46f055"/><stop offset="1.000" stop-color="#5df04c"/></linearGradient><linearGradient id="g182" gradientUnits="userSpaceOnUse" x1="346.8" y1="250.6" x2="355.9" y2="260.5"><stop offset="0.000" stop-color="#38efb9"/><stop offset="0.254" stop-color="#3cf0a0"/><stop offset="0.972" stop-color="#46f055"/><stop offset="1.000" stop-color="#47f055"/></linearGradient><linearGradient id="g183" gradientUnits="userSpaceOnUse" x1="745.1" y1="486.3" x2="735.3" y2="443.7"><stop offset="0.000" stop-color="#1414fa"/><stop offset="0.379" stop-color="#1414fa"/><stop offset="0.774" stop-color="#1923fa"/><stop offset="1.000" stop-color="#1c2ffa"/></linearGradient><linearGradient id="g184" gradientUnits="userSpaceOnUse" x1="722.4" y1="455.4" x2="713.8" y2="414.7"><stop offset="0.000" stop-color="#1924fa"/><stop offset="0.439" stop-color="#1e3afa"/><stop offset="0.974" stop-color="#2a6efa"/><stop offset="1.000" stop-color="#2b71fa"/></linearGradient><linearGradient id="g185" gradientUnits="userSpaceOnUse" x1="699.8" y1="426.7" x2="692.4" y2="387.9"><stop offset="0.000" stop-color="#265cfa"/><stop offset="0.203" stop-color="#2a6efa"/><stop offset="0.376" stop-color="#2e82fa"/><stop offset="0.723" stop-color="#34acfa"/><stop offset="1.000" stop-color="#34ccf3"/></linearGradient><linearGradient id="g186" gradientUnits="userSpaceOnUse" x1="677.3" y1="400.2" x2="671.2" y2="363.2"><stop offset="0.000" stop-color="#34b1f9"/><stop offset="0.461" stop-color="#34e2ee"/><stop offset="0.966" stop-color="#34eecd"/><stop offset="1.000" stop-color="#35eec9"/></linearGradient><linearGradient id="g187" gradientUnits="userSpaceOnUse" x1="655.1" y1="375.8" x2="650.1" y2="340.7"><stop offset="0.000" stop-color="#34e9dc"/><stop offset="0.246" stop-color="#34eecd"/><stop offset="0.692" stop-color="#3cf0a0"/><stop offset="1.000" stop-color="#40f07e"/></linearGradient><linearGradient id="g188" gradientUnits="userSpaceOnUse" x1="633.0" y1="353.5" x2="629.1" y2="320.4"><stop offset="0.000" stop-color="#3cf09e"/><stop offset="0.734" stop-color="#46f055"/><stop offset="1.000" stop-color="#50f051"/></linearGradient><linearGradient id="g189" gradientUnits="userSpaceOnUse" x1="611.1" y1="333.3" x2="608.4" y2="302.1"><stop offset="0.000" stop-color="#45f05b"/><stop offset="0.065" stop-color="#46f055"/><stop offset="1.000" stop-color="#67f049"/></linearGradient><linearGradient id="g190" gradientUnits="userSpaceOnUse" x1="589.4" y1="315.2" x2="587.9" y2="285.9"><stop offset="0.000" stop-color="#5af04d"/><stop offset="0.623" stop-color="#6ef046"/><stop offset="1.000" stop-color="#91f046"/></linearGradient><linearGradient id="g191" gradientUnits="userSpaceOnUse" x1="567.8" y1="299.1" x2="567.7" y2="271.9"><stop offset="0.000" stop-color="#6df046"/><stop offset="0.047" stop-color="#6ef046"/><stop offset="0.666" stop-color="#a0f046"/><stop offset="1.000" stop-color="#b8f046"/></linearGradient><linearGradient id="g192" gradientUnits="userSpaceOnUse" x1="546.5" y1="285.1" x2="547.7" y2="259.9"><stop offset="0.000" stop-color="#94f046"/><stop offset="0.175" stop-color="#a0f046"/><stop offset="0.818" stop-color="#c8f046"/><stop offset="1.000" stop-color="#d2f049"/></linearGradient><linearGradient id="g193" gradientUnits="userSpaceOnUse" x1="525.2" y1="272.9" x2="528.1" y2="250.0"><stop offset="0.000" stop-color="#b0f046"/><stop offset="0.461" stop-color="#c8f046"/><stop offset="1.000" stop-color="#e1f04c"/></linearGradient><linearGradient id="g194" gradientUnits="userSpaceOnUse" x1="504.0" y1="262.6" x2="508.9" y2="242.3"><stop offset="0.000" stop-color="#c0f046"/><stop offset="0.185" stop-color="#c8f046"/><stop offset="1.000" stop-color="#e7f04e"/></linearGradient><linearGradient id="g195" gradientUnits="userSpaceOnUse" x1="482.0" y1="255.9" x2="491.1" y2="234.9"><stop offset="0.000" stop-color="#c2f046"/><stop offset="0.149" stop-color="#c8f046"/><stop offset="1.000" stop-color="#e8f04e"/></linearGradient><linearGradient id="g196" gradientUnits="userSpaceOnUse" x1="456.5" y1="253.0" x2="477.2" y2="227.5"><stop offset="0.000" stop-color="#b3f046"/><stop offset="0.401" stop-color="#c8f046"/><stop offset="1.000" stop-color="#e4f04d"/></linearGradient><linearGradient id="g197" gradientUnits="userSpaceOnUse" x1="429.1" y1="246.4" x2="465.8" y2="227.7"><stop offset="0.000" stop-color="#99f046"/><stop offset="0.099" stop-color="#a0f046"/><stop offset="0.728" stop-color="#c8f046"/><stop offset="1.000" stop-color="#d8f04a"/></linearGradient><linearGradient id="g198" gradientUnits="userSpaceOnUse" x1="408.2" y1="235.5" x2="448.4" y2="235.9"><stop offset="0.000" stop-color="#71f046"/><stop offset="0.561" stop-color="#a0f046"/><stop offset="1.000" stop-color="#c1f046"/></linearGradient><linearGradient id="g199" gradientUnits="userSpaceOnUse" x1="394.8" y1="230.3" x2="424.2" y2="242.1"><stop offset="0.000" stop-color="#5df04c"/><stop offset="0.505" stop-color="#6ef046"/><stop offset="1.000" stop-color="#9ef046"/></linearGradient><linearGradient id="g200" gradientUnits="userSpaceOnUse" x1="381.6" y1="231.8" x2="400.3" y2="245.0"><stop offset="0.000" stop-color="#47f055"/><stop offset="1.000" stop-color="#6df046"/></linearGradient><linearGradient id="g201" gradientUnits="userSpaceOnUse" x1="366.9" y1="236.9" x2="378.4" y2="247.9"><stop offset="0.000" stop-color="#3ef094"/><stop offset="0.591" stop-color="#46f055"/><stop offset="1.000" stop-color="#57f04f"/></linearGradient><linearGradient id="g202" gradientUnits="userSpaceOnUse" x1="789.2" y1="505.5" x2="778.3" y2="460.6"><stop offset="0.000" stop-color="#1313fa"/><stop offset="0.978" stop-color="#1414fa"/><stop offset="1.000" stop-color="#1415fa"/></linearGradient><linearGradient id="g203" gradientUnits="userSpaceOnUse" x1="766.3" y1="472.6" x2="756.8" y2="429.5"><stop offset="0.000" stop-color="#1414fa"/><stop offset="0.182" stop-color="#1414fa"/><stop offset="0.568" stop-color="#1923fa"/><stop offset="0.999" stop-color="#1e3afa"/><stop offset="1.000" stop-color="#1e3afa"/></linearGradient><linearGradient id="g204" gradientUnits="userSpaceOnUse" x1="743.6" y1="441.9" x2="735.3" y2="400.6"><stop offset="0.000" stop-color="#1c2ffa"/><stop offset="0.223" stop-color="#1e3afa"/><stop offset="0.744" stop-color="#2a6efa"/><stop offset="0.902" stop-color="#2e82fa"/><stop offset="1.000" stop-color="#308ffa"/></linearGradient><linearGradient id="g205" gradientUnits="userSpaceOnUse" x1="721.1" y1="413.3" x2="713.9" y2="373.9"><stop offset="0.000" stop-color="#2b71fa"/><stop offset="0.141" stop-color="#2e82fa"/><stop offset="0.479" stop-color="#34acfa"/><stop offset="0.934" stop-color="#34e2ee"/><stop offset="1.000" stop-color="#34e4e9"/></linearGradient><linearGradient id="g206" gradientUnits="userSpaceOnUse" x1="698.6" y1="386.8" x2="692.7" y2="349.3"><stop offset="0.000" stop-color="#34ccf3"/><stop offset="0.200" stop-color="#34e2ee"/><stop offset="0.689" stop-color="#34eecd"/><stop offset="1.000" stop-color="#3af0aa"/></linearGradient><linearGradient id="g207" gradientUnits="userSpaceOnUse" x1="676.4" y1="362.4" x2="671.6" y2="326.9"><stop offset="0.000" stop-color="#35eec9"/><stop offset="0.395" stop-color="#3cf0a0"/><stop offset="1.000" stop-color="#45f05c"/></linearGradient><linearGradient id="g208" gradientUnits="userSpaceOnUse" x1="654.3" y1="340.2" x2="650.7" y2="306.5"><stop offset="0.000" stop-color="#40f07e"/><stop offset="0.402" stop-color="#46f055"/><stop offset="1.000" stop-color="#5ef04c"/></linearGradient><linearGradient id="g209" gradientUnits="userSpaceOnUse" x1="632.5" y1="320.0" x2="630.0" y2="288.3"><stop offset="0.000" stop-color="#50f051"/><stop offset="0.799" stop-color="#6ef046"/><stop offset="1.000" stop-color="#83f046"/></linearGradient><linearGradient id="g210" gradientUnits="userSpaceOnUse" x1="610.7" y1="301.9" x2="609.5" y2="272.2"><stop offset="0.000" stop-color="#67f049"/><stop offset="0.203" stop-color="#6ef046"/><stop offset="0.726" stop-color="#a0f046"/><stop offset="1.000" stop-color="#b7f046"/></linearGradient><linearGradient id="g211" gradientUnits="userSpaceOnUse" x1="589.2" y1="285.9" x2="589.3" y2="258.2"><stop offset="0.000" stop-color="#91f046"/><stop offset="0.182" stop-color="#a0f046"/><stop offset="0.712" stop-color="#c8f046"/><stop offset="1.000" stop-color="#dcf04b"/></linearGradient><linearGradient id="g212" gradientUnits="userSpaceOnUse" x1="567.8" y1="271.8" x2="569.3" y2="246.2"><stop offset="0.000" stop-color="#b8f046"/><stop offset="0.244" stop-color="#c8f046"/><stop offset="0.919" stop-color="#f0f050"/><stop offset="1.000" stop-color="#f1ed51"/></linearGradient><linearGradient id="g213" gradientUnits="userSpaceOnUse" x1="546.6" y1="259.7" x2="549.6" y2="236.3"><stop offset="0.000" stop-color="#d2f049"/><stop offset="0.589" stop-color="#f0f050"/><stop offset="1.000" stop-color="#f3e253"/></linearGradient><linearGradient id="g214" gradientUnits="userSpaceOnUse" x1="525.4" y1="249.4" x2="530.3" y2="228.6"><stop offset="0.000" stop-color="#e1f04c"/><stop offset="0.347" stop-color="#f0f050"/><stop offset="1.000" stop-color="#f4de54"/></linearGradient><linearGradient id="g215" gradientUnits="userSpaceOnUse" x1="503.7" y1="242.3" x2="512.1" y2="221.6"><stop offset="0.000" stop-color="#e4f04d"/><stop offset="0.297" stop-color="#f0f050"/><stop offset="1.000" stop-color="#f4de54"/></linearGradient><linearGradient id="g216" gradientUnits="userSpaceOnUse" x1="479.1" y1="239.6" x2="497.3" y2="214.0"><stop offset="0.000" stop-color="#d8f04a"/><stop offset="0.495" stop-color="#f0f050"/><stop offset="1.000" stop-color="#f3df53"/></linearGradient><linearGradient id="g217" gradientUnits="userSpaceOnUse" x1="452.3" y1="234.8" x2="485.2" y2="212.3"><stop offset="0.000" stop-color="#c1f046"/><stop offset="0.110" stop-color="#c8f046"/><stop offset="0.785" stop-color="#f0f050"/><stop offset="1.000" stop-color="#f2e852"/></linearGradient><linearGradient id="g218" gradientUnits="userSpaceOnUse" x1="429.0" y1="225.3" x2="470.2" y2="219.0"><stop offset="0.000" stop-color="#9ef046"/><stop offset="0.028" stop-color="#a0f046"/><stop offset="0.548" stop-color="#c8f046"/><stop offset="1.000" stop-color="#e7f04e"/></linearGradient><linearGradient id="g219" gradientUnits="userSpaceOnUse" x1="413.7" y1="218.4" x2="447.7" y2="226.9"><stop offset="0.000" stop-color="#6df046"/><stop offset="0.033" stop-color="#6ef046"/><stop offset="0.538" stop-color="#a0f046"/><stop offset="0.993" stop-color="#c8f046"/><stop offset="1.000" stop-color="#c9f046"/></linearGradient><linearGradient id="g220" gradientUnits="userSpaceOnUse" x1="400.7" y1="218.4" x2="423.4" y2="231.3"><stop offset="0.000" stop-color="#57f04f"/><stop offset="0.590" stop-color="#6ef046"/><stop offset="1.000" stop-color="#9cf046"/></linearGradient><linearGradient id="g221" gradientUnits="userSpaceOnUse" x1="386.6" y1="222.9" x2="400.9" y2="234.7"><stop offset="0.000" stop-color="#43f06b"/><stop offset="0.199" stop-color="#46f055"/><stop offset="1.000" stop-color="#68f048"/></linearGradient><linearGradient id="g222" gradientUnits="userSpaceOnUse" x1="810.2" y1="491.3" x2="799.5" y2="445.8"><stop offset="0.000" stop-color="#1313fa"/><stop offset="0.771" stop-color="#1414fa"/><stop offset="1.000" stop-color="#171efa"/></linearGradient><linearGradient id="g223" gradientUnits="userSpaceOnUse" x1="787.3" y1="458.5" x2="778.0" y2="414.8"><stop offset="0.000" stop-color="#1415fa"/><stop offset="0.354" stop-color="#1923fa"/><stop offset="0.774" stop-color="#1e3afa"/><stop offset="1.000" stop-color="#2453fa"/></linearGradient><linearGradient id="g224" gradientUnits="userSpaceOnUse" x1="764.7" y1="427.8" x2="756.6" y2="386.0"><stop offset="0.000" stop-color="#1e3afa"/><stop offset="0.507" stop-color="#2a6efa"/><stop offset="0.660" stop-color="#2e82fa"/><stop offset="0.968" stop-color="#34acfa"/><stop offset="1.000" stop-color="#34b0f9"/></linearGradient><linearGradient id="g225" gradientUnits="userSpaceOnUse" x1="742.1" y1="399.3" x2="735.2" y2="359.4"><stop offset="0.000" stop-color="#308ffa"/><stop offset="0.226" stop-color="#34acfa"/><stop offset="0.670" stop-color="#34e2ee"/><stop offset="1.000" stop-color="#34ebd5"/></linearGradient><linearGradient id="g226" gradientUnits="userSpaceOnUse" x1="719.7" y1="372.9" x2="714.0" y2="334.9"><stop offset="0.000" stop-color="#34e4e9"/><stop offset="0.406" stop-color="#34eecd"/><stop offset="0.794" stop-color="#3cf0a0"/><stop offset="1.000" stop-color="#3ff086"/></linearGradient><linearGradient id="g227" gradientUnits="userSpaceOnUse" x1="697.5" y1="348.6" x2="693.0" y2="312.5"><stop offset="0.000" stop-color="#3af0aa"/><stop offset="0.092" stop-color="#3cf0a0"/><stop offset="0.738" stop-color="#46f055"/><stop offset="1.000" stop-color="#52f051"/></linearGradient><linearGradient id="g228" gradientUnits="userSpaceOnUse" x1="675.5" y1="326.4" x2="672.1" y2="292.3"><stop offset="0.000" stop-color="#45f05c"/><stop offset="0.065" stop-color="#46f055"/><stop offset="1.000" stop-color="#6df046"/></linearGradient><linearGradient id="g229" gradientUnits="userSpaceOnUse" x1="653.6" y1="306.3" x2="651.4" y2="274.1"><stop offset="0.000" stop-color="#5ef04c"/><stop offset="0.408" stop-color="#6ef046"/><stop offset="0.861" stop-color="#a0f046"/><stop offset="1.000" stop-color="#aef046"/></linearGradient><linearGradient id="g230" gradientUnits="userSpaceOnUse" x1="631.9" y1="288.2" x2="630.9" y2="258.0"><stop offset="0.000" stop-color="#83f046"/><stop offset="0.287" stop-color="#a0f046"/><stop offset="0.738" stop-color="#c8f046"/><stop offset="1.000" stop-color="#ddf04b"/></linearGradient><linearGradient id="g231" gradientUnits="userSpaceOnUse" x1="610.4" y1="272.2" x2="610.6" y2="244.0"><stop offset="0.000" stop-color="#b7f046"/><stop offset="0.211" stop-color="#c8f046"/><stop offset="0.773" stop-color="#f0f050"/><stop offset="1.000" stop-color="#f2e552"/></linearGradient><linearGradient id="g232" gradientUnits="userSpaceOnUse" x1="589.0" y1="258.1" x2="590.6" y2="232.1"><stop offset="0.000" stop-color="#dcf04b"/><stop offset="0.327" stop-color="#f0f050"/><stop offset="0.928" stop-color="#f5d755"/><stop offset="1.000" stop-color="#f5d455"/></linearGradient><linearGradient id="g233" gradientUnits="userSpaceOnUse" x1="567.7" y1="246.0" x2="570.9" y2="222.2"><stop offset="0.000" stop-color="#f1ed51"/><stop offset="0.608" stop-color="#f5d755"/><stop offset="1.000" stop-color="#f5c855"/></linearGradient><linearGradient id="g234" gradientUnits="userSpaceOnUse" x1="546.6" y1="235.8" x2="551.5" y2="214.5"><stop offset="0.000" stop-color="#f3e253"/><stop offset="0.373" stop-color="#f5d755"/><stop offset="1.000" stop-color="#f5c355"/></linearGradient><linearGradient id="g235" gradientUnits="userSpaceOnUse" x1="525.2" y1="228.3" x2="533.0" y2="207.8"><stop offset="0.000" stop-color="#f3df53"/><stop offset="0.307" stop-color="#f5d755"/><stop offset="1.000" stop-color="#f5c255"/></linearGradient><linearGradient id="g236" gradientUnits="userSpaceOnUse" x1="501.3" y1="225.6" x2="517.4" y2="200.2"><stop offset="0.000" stop-color="#f2e852"/><stop offset="0.484" stop-color="#f5d755"/><stop offset="1.000" stop-color="#f5c455"/></linearGradient><linearGradient id="g237" gradientUnits="userSpaceOnUse" x1="475.2" y1="222.1" x2="504.5" y2="197.2"><stop offset="0.000" stop-color="#e7f04e"/><stop offset="0.142" stop-color="#f0f050"/><stop offset="0.755" stop-color="#f5d755"/><stop offset="1.000" stop-color="#f5cc55"/></linearGradient><linearGradient id="g238" gradientUnits="userSpaceOnUse" x1="450.4" y1="214.5" x2="490.8" y2="202.0"><stop offset="0.000" stop-color="#c8f046"/><stop offset="0.554" stop-color="#f0f050"/><stop offset="1.000" stop-color="#f4db54"/></linearGradient><linearGradient id="g239" gradientUnits="userSpaceOnUse" x1="432.8" y1="206.7" x2="470.5" y2="210.5"><stop offset="0.000" stop-color="#9bf046"/><stop offset="0.044" stop-color="#a0f046"/><stop offset="0.488" stop-color="#c8f046"/><stop offset="0.980" stop-color="#f0f050"/><stop offset="1.000" stop-color="#f0ef50"/></linearGradient><linearGradient id="g240" gradientUnits="userSpaceOnUse" x1="419.4" y1="205.1" x2="446.5" y2="216.6"><stop offset="0.000" stop-color="#68f048"/><stop offset="0.142" stop-color="#6ef046"/><stop offset="0.581" stop-color="#a0f046"/><stop offset="0.976" stop-color="#c8f046"/><stop offset="1.000" stop-color="#caf047"/></linearGradient><linearGradient id="g241" gradientUnits="userSpaceOnUse" x1="405.8" y1="208.7" x2="423.4" y2="220.8"><stop offset="0.000" stop-color="#4ff052"/><stop offset="0.709" stop-color="#6ef046"/><stop offset="1.000" stop-color="#93f046"/></linearGradient><linearGradient id="g242" gradientUnits="userSpaceOnUse" x1="830.9" y1="476.6" x2="820.4" y2="430.6"><stop offset="0.000" stop-color="#1313fa"/><stop offset="0.557" stop-color="#1414fa"/><stop offset="0.906" stop-color="#1923fa"/><stop offset="1.000" stop-color="#1a29fa"/></linearGradient><linearGradient id="g243" gradientUnits="userSpaceOnUse" x1="808.1" y1="443.9" x2="799.0" y2="399.7"><stop offset="0.000" stop-color="#171efa"/><stop offset="0.132" stop-color="#1923fa"/><stop offset="0.543" stop-color="#1e3afa"/><stop offset="1.000" stop-color="#2a6dfa"/></linearGradient><linearGradient id="g244" gradientUnits="userSpaceOnUse" x1="785.5" y1="413.3" x2="777.6" y2="371.0"><stop offset="0.000" stop-color="#2453fa"/><stop offset="0.262" stop-color="#2a6efa"/><stop offset="0.412" stop-color="#2e82fa"/><stop offset="0.712" stop-color="#34acfa"/><stop offset="1.000" stop-color="#34d2f1"/></linearGradient><linearGradient id="g245" gradientUnits="userSpaceOnUse" x1="763.0" y1="384.9" x2="756.3" y2="344.5"><stop offset="0.000" stop-color="#34b0f9"/><stop offset="0.399" stop-color="#34e2ee"/><stop offset="0.830" stop-color="#34eecd"/><stop offset="1.000" stop-color="#38efb7"/></linearGradient><linearGradient id="g246" gradientUnits="userSpaceOnUse" x1="740.6" y1="358.5" x2="735.1" y2="320.0"><stop offset="0.000" stop-color="#34ebd5"/><stop offset="0.118" stop-color="#34eecd"/><stop offset="0.494" stop-color="#3cf0a0"/><stop offset="1.000" stop-color="#45f05f"/></linearGradient><linearGradient id="g247" gradientUnits="userSpaceOnUse" x1="718.4" y1="334.3" x2="714.1" y2="297.7"><stop offset="0.000" stop-color="#3ff086"/><stop offset="0.411" stop-color="#46f055"/><stop offset="1.000" stop-color="#62f04b"/></linearGradient><linearGradient id="g248" gradientUnits="userSpaceOnUse" x1="696.4" y1="312.1" x2="693.2" y2="277.5"><stop offset="0.000" stop-color="#52f051"/><stop offset="0.644" stop-color="#6ef046"/><stop offset="1.000" stop-color="#9bf046"/></linearGradient><linearGradient id="g249" gradientUnits="userSpaceOnUse" x1="674.5" y1="292.1" x2="672.5" y2="259.4"><stop offset="0.000" stop-color="#6df046"/><stop offset="0.016" stop-color="#6ef046"/><stop offset="0.452" stop-color="#a0f046"/><stop offset="0.845" stop-color="#c8f046"/><stop offset="1.000" stop-color="#d6f04a"/></linearGradient><linearGradient id="g250" gradientUnits="userSpaceOnUse" x1="652.8" y1="274.0" x2="652.0" y2="243.4"><stop offset="0.000" stop-color="#aef046"/><stop offset="0.285" stop-color="#c8f046"/><stop offset="0.766" stop-color="#f0f050"/><stop offset="1.000" stop-color="#f3e353"/></linearGradient><linearGradient id="g251" gradientUnits="userSpaceOnUse" x1="631.3" y1="258.0" x2="631.7" y2="229.4"><stop offset="0.000" stop-color="#ddf04b"/><stop offset="0.256" stop-color="#f0f050"/><stop offset="0.761" stop-color="#f5d755"/><stop offset="1.000" stop-color="#f5ca55"/></linearGradient><linearGradient id="g252" gradientUnits="userSpaceOnUse" x1="609.9" y1="244.0" x2="611.7" y2="217.5"><stop offset="0.000" stop-color="#f2e552"/><stop offset="0.325" stop-color="#f5d755"/><stop offset="0.957" stop-color="#f5b955"/><stop offset="1.000" stop-color="#f5b755"/></linearGradient><linearGradient id="g253" gradientUnits="userSpaceOnUse" x1="588.7" y1="231.9" x2="591.9" y2="207.6"><stop offset="0.000" stop-color="#f5d455"/><stop offset="0.648" stop-color="#f5b955"/><stop offset="1.000" stop-color="#f5a755"/></linearGradient><linearGradient id="g254" gradientUnits="userSpaceOnUse" x1="567.6" y1="221.6" x2="572.5" y2="199.9"><stop offset="0.000" stop-color="#f5c855"/><stop offset="0.423" stop-color="#f5b955"/><stop offset="1.000" stop-color="#f5a055"/></linearGradient><linearGradient id="g255" gradientUnits="userSpaceOnUse" x1="546.4" y1="213.9" x2="553.6" y2="193.5"><stop offset="0.000" stop-color="#f5c455"/><stop offset="0.347" stop-color="#f5b955"/><stop offset="1.000" stop-color="#f5a055"/></linearGradient><linearGradient id="g256" gradientUnits="userSpaceOnUse" x1="523.0" y1="211.2" x2="537.5" y2="185.9"><stop offset="0.000" stop-color="#f5cc55"/><stop offset="0.497" stop-color="#f5b955"/><stop offset="1.000" stop-color="#f5a155"/></linearGradient><linearGradient id="g257" gradientUnits="userSpaceOnUse" x1="497.7" y1="208.4" x2="523.7" y2="182.1"><stop offset="0.000" stop-color="#f4db54"/><stop offset="0.092" stop-color="#f5d755"/><stop offset="0.748" stop-color="#f5b955"/><stop offset="1.000" stop-color="#f5ab55"/></linearGradient><linearGradient id="g258" gradientUnits="userSpaceOnUse" x1="472.3" y1="202.7" x2="510.6" y2="185.0"><stop offset="0.000" stop-color="#f0ef50"/><stop offset="0.491" stop-color="#f5d755"/><stop offset="1.000" stop-color="#f5bc55"/></linearGradient><linearGradient id="g259" gradientUnits="userSpaceOnUse" x1="452.4" y1="195.0" x2="492.5" y2="193.3"><stop offset="0.000" stop-color="#caf047"/><stop offset="0.455" stop-color="#f0f050"/><stop offset="0.906" stop-color="#f5d755"/><stop offset="1.000" stop-color="#f5d155"/></linearGradient><linearGradient id="g260" gradientUnits="userSpaceOnUse" x1="438.0" y1="191.8" x2="469.4" y2="200.9"><stop offset="0.000" stop-color="#93f046"/><stop offset="0.115" stop-color="#a0f046"/><stop offset="0.501" stop-color="#c8f046"/><stop offset="0.930" stop-color="#f0f050"/><stop offset="1.000" stop-color="#f1ec51"/></linearGradient><linearGradient id="g261" gradientUnits="userSpaceOnUse" x1="424.6" y1="194.3" x2="445.9" y2="206.2"><stop offset="0.000" stop-color="#62f04b"/><stop offset="0.278" stop-color="#6ef046"/><stop offset="0.666" stop-color="#a0f046"/><stop offset="1.000" stop-color="#c6f046"/></linearGradient><linearGradient id="g262" gradientUnits="userSpaceOnUse" x1="851.4" y1="461.4" x2="841.2" y2="414.9"><stop offset="0.000" stop-color="#1414fa"/><stop offset="0.335" stop-color="#1414fa"/><stop offset="0.676" stop-color="#1923fa"/><stop offset="1.000" stop-color="#1d37fa"/></linearGradient><linearGradient id="g263" gradientUnits="userSpaceOnUse" x1="828.7" y1="428.8" x2="819.8" y2="384.1"><stop offset="0.000" stop-color="#1a29fa"/><stop offset="0.304" stop-color="#1e3afa"/><stop offset="0.760" stop-color="#2a6efa"/><stop offset="0.899" stop-color="#2e82fa"/><stop offset="1.000" stop-color="#3091fa"/></linearGradient><linearGradient id="g264" gradientUnits="userSpaceOnUse" x1="806.1" y1="398.3" x2="798.4" y2="355.5"><stop offset="0.000" stop-color="#2a6dfa"/><stop offset="0.010" stop-color="#2a6efa"/><stop offset="0.157" stop-color="#2e82fa"/><stop offset="0.450" stop-color="#34acfa"/><stop offset="0.845" stop-color="#34e2ee"/><stop offset="1.000" stop-color="#34e7e1"/></linearGradient><linearGradient id="g265" gradientUnits="userSpaceOnUse" x1="783.6" y1="370.0" x2="777.2" y2="329.0"><stop offset="0.000" stop-color="#34d2f1"/><stop offset="0.122" stop-color="#34e2ee"/><stop offset="0.542" stop-color="#34eecd"/><stop offset="0.885" stop-color="#3cf0a0"/><stop offset="1.000" stop-color="#3ef090"/></linearGradient><linearGradient id="g266" gradientUnits="userSpaceOnUse" x1="761.3" y1="343.7" x2="756.0" y2="304.7"><stop offset="0.000" stop-color="#38efb7"/><stop offset="0.189" stop-color="#3cf0a0"/><stop offset="0.755" stop-color="#46f055"/><stop offset="1.000" stop-color="#53f050"/></linearGradient><linearGradient id="g267" gradientUnits="userSpaceOnUse" x1="739.1" y1="319.5" x2="735.0" y2="282.4"><stop offset="0.000" stop-color="#45f05f"/><stop offset="0.079" stop-color="#46f055"/><stop offset="0.901" stop-color="#6ef046"/><stop offset="1.000" stop-color="#7cf046"/></linearGradient><linearGradient id="g268" gradientUnits="userSpaceOnUse" x1="717.1" y1="297.4" x2="714.2" y2="262.3"><stop offset="0.000" stop-color="#62f04b"/><stop offset="0.271" stop-color="#6ef046"/><stop offset="0.657" stop-color="#a0f046"/><stop offset="1.000" stop-color="#c7f046"/></linearGradient><linearGradient id="g269" gradientUnits="userSpaceOnUse" x1="695.3" y1="277.3" x2="693.5" y2="244.2"><stop offset="0.000" stop-color="#9bf046"/><stop offset="0.045" stop-color="#a0f046"/><stop offset="0.424" stop-color="#c8f046"/><stop offset="0.845" stop-color="#f0f050"/><stop offset="1.000" stop-color="#f2e652"/></linearGradient><linearGradient id="g270" gradientUnits="userSpaceOnUse" x1="673.6" y1="259.3" x2="672.9" y2="228.2"><stop offset="0.000" stop-color="#d6f04a"/><stop offset="0.298" stop-color="#f0f050"/><stop offset="0.733" stop-color="#f5d755"/><stop offset="1.000" stop-color="#f5c655"/></linearGradient><linearGradient id="g271" gradientUnits="userSpaceOnUse" x1="652.1" y1="243.3" x2="652.6" y2="214.3"><stop offset="0.000" stop-color="#f3e353"/><stop offset="0.233" stop-color="#f5d755"/><stop offset="0.767" stop-color="#f5b955"/><stop offset="1.000" stop-color="#f5a955"/></linearGradient><linearGradient id="g272" gradientUnits="userSpaceOnUse" x1="630.7" y1="229.3" x2="632.6" y2="202.4"><stop offset="0.000" stop-color="#f5ca55"/><stop offset="0.343" stop-color="#f5b955"/><stop offset="0.920" stop-color="#f59655"/><stop offset="1.000" stop-color="#f59256"/></linearGradient><linearGradient id="g273" gradientUnits="userSpaceOnUse" x1="609.5" y1="217.2" x2="612.7" y2="192.6"><stop offset="0.000" stop-color="#f5b755"/><stop offset="0.613" stop-color="#f59655"/><stop offset="1.000" stop-color="#f6875b"/></linearGradient><linearGradient id="g274" gradientUnits="userSpaceOnUse" x1="588.4" y1="207.0" x2="593.2" y2="184.8"><stop offset="0.000" stop-color="#f5a755"/><stop offset="0.383" stop-color="#f59655"/><stop offset="1.000" stop-color="#f6815d"/></linearGradient><linearGradient id="g275" gradientUnits="userSpaceOnUse" x1="567.4" y1="199.0" x2="574.2" y2="178.7"><stop offset="0.000" stop-color="#f5a255"/><stop offset="0.289" stop-color="#f59655"/><stop offset="1.000" stop-color="#f6815d"/></linearGradient><linearGradient id="g276" gradientUnits="userSpaceOnUse" x1="544.4" y1="196.2" x2="557.5" y2="171.1"><stop offset="0.000" stop-color="#f5ab55"/><stop offset="0.432" stop-color="#f59655"/><stop offset="1.000" stop-color="#f6815c"/></linearGradient><linearGradient id="g277" gradientUnits="userSpaceOnUse" x1="519.8" y1="193.9" x2="543.0" y2="166.8"><stop offset="0.000" stop-color="#f5bc55"/><stop offset="0.065" stop-color="#f5b955"/><stop offset="0.675" stop-color="#f59655"/><stop offset="1.000" stop-color="#f6885a"/></linearGradient><linearGradient id="g278" gradientUnits="userSpaceOnUse" x1="494.4" y1="189.8" x2="529.8" y2="168.1"><stop offset="0.000" stop-color="#f5d155"/><stop offset="0.448" stop-color="#f5b955"/><stop offset="0.977" stop-color="#f59655"/><stop offset="1.000" stop-color="#f59555"/></linearGradient><linearGradient id="g279" gradientUnits="userSpaceOnUse" x1="472.5" y1="183.0" x2="513.5" y2="175.5"><stop offset="0.000" stop-color="#f1ec51"/><stop offset="0.364" stop-color="#f5d755"/><stop offset="0.851" stop-color="#f5b955"/><stop offset="1.000" stop-color="#f5ae55"/></linearGradient><linearGradient id="g280" gradientUnits="userSpaceOnUse" x1="456.6" y1="178.6" x2="491.9" y2="184.2"><stop offset="0.000" stop-color="#c6f046"/><stop offset="0.018" stop-color="#c8f046"/><stop offset="0.437" stop-color="#f0f050"/><stop offset="0.831" stop-color="#f5d755"/><stop offset="1.000" stop-color="#f5cb55"/></linearGradient><linearGradient id="g281" gradientUnits="userSpaceOnUse" x1="443.1" y1="179.7" x2="468.3" y2="190.8"><stop offset="0.000" stop-color="#83f046"/><stop offset="0.220" stop-color="#a0f046"/><stop offset="0.562" stop-color="#c8f046"/><stop offset="0.942" stop-color="#f0f050"/><stop offset="1.000" stop-color="#f1ec51"/></linearGradient><linearGradient id="g282" gradientUnits="userSpaceOnUse" x1="871.8" y1="445.8" x2="861.8" y2="398.8"><stop offset="0.000" stop-color="#1414fa"/><stop offset="0.107" stop-color="#1414fa"/><stop offset="0.441" stop-color="#1923fa"/><stop offset="0.813" stop-color="#1e3afa"/><stop offset="1.000" stop-color="#2351fa"/></linearGradient><linearGradient id="g283" gradientUnits="userSpaceOnUse" x1="849.1" y1="413.3" x2="840.4" y2="368.1"><stop offset="0.000" stop-color="#1d37fa"/><stop offset="0.059" stop-color="#1e3afa"/><stop offset="0.505" stop-color="#2a6efa"/><stop offset="0.640" stop-color="#2e82fa"/><stop offset="0.911" stop-color="#34acfa"/><stop offset="1.000" stop-color="#34b9f7"/></linearGradient><linearGradient id="g284" gradientUnits="userSpaceOnUse" x1="826.5" y1="382.9" x2="819.1" y2="339.6"><stop offset="0.000" stop-color="#3091fa"/><stop offset="0.181" stop-color="#34acfa"/><stop offset="0.567" stop-color="#34e2ee"/><stop offset="0.953" stop-color="#34eecd"/><stop offset="1.000" stop-color="#35eec6"/></linearGradient><linearGradient id="g285" gradientUnits="userSpaceOnUse" x1="804.1" y1="354.6" x2="797.9" y2="313.2"><stop offset="0.000" stop-color="#34e7e1"/><stop offset="0.249" stop-color="#34eecd"/><stop offset="0.583" stop-color="#3cf0a0"/><stop offset="1.000" stop-color="#44f063"/></linearGradient><linearGradient id="g286" gradientUnits="userSpaceOnUse" x1="781.8" y1="328.4" x2="776.7" y2="288.9"><stop offset="0.000" stop-color="#3ef090"/><stop offset="0.430" stop-color="#46f055"/><stop offset="1.000" stop-color="#65f04a"/></linearGradient><linearGradient id="g287" gradientUnits="userSpaceOnUse" x1="759.6" y1="304.2" x2="755.7" y2="266.7"><stop offset="0.000" stop-color="#53f050"/><stop offset="0.542" stop-color="#6ef046"/><stop offset="0.889" stop-color="#a0f046"/><stop offset="1.000" stop-color="#aef046"/></linearGradient><linearGradient id="g288" gradientUnits="userSpaceOnUse" x1="737.6" y1="282.2" x2="734.9" y2="246.6"><stop offset="0.000" stop-color="#7cf046"/><stop offset="0.270" stop-color="#a0f046"/><stop offset="0.607" stop-color="#c8f046"/><stop offset="0.981" stop-color="#f0f050"/><stop offset="1.000" stop-color="#f0ef50"/></linearGradient><linearGradient id="g289" gradientUnits="userSpaceOnUse" x1="715.8" y1="262.2" x2="714.2" y2="228.6"><stop offset="0.000" stop-color="#c7f046"/><stop offset="0.005" stop-color="#c8f046"/><stop offset="0.411" stop-color="#f0f050"/><stop offset="0.793" stop-color="#f5d755"/><stop offset="1.000" stop-color="#f5c855"/></linearGradient><linearGradient id="g290" gradientUnits="userSpaceOnUse" x1="694.1" y1="244.2" x2="693.7" y2="212.6"><stop offset="0.000" stop-color="#f2e652"/><stop offset="0.254" stop-color="#f5d755"/><stop offset="0.716" stop-color="#f5b955"/><stop offset="1.000" stop-color="#f5a355"/></linearGradient><linearGradient id="g291" gradientUnits="userSpaceOnUse" x1="672.6" y1="228.2" x2="673.3" y2="198.7"><stop offset="0.000" stop-color="#f5c655"/><stop offset="0.227" stop-color="#f5b955"/><stop offset="0.719" stop-color="#f59655"/><stop offset="1.000" stop-color="#f6875a"/></linearGradient><linearGradient id="g292" gradientUnits="userSpaceOnUse" x1="651.3" y1="214.2" x2="653.2" y2="186.9"><stop offset="0.000" stop-color="#f5a955"/><stop offset="0.300" stop-color="#f59655"/><stop offset="0.883" stop-color="#f67a5f"/><stop offset="1.000" stop-color="#f67760"/></linearGradient><linearGradient id="g293" gradientUnits="userSpaceOnUse" x1="630.1" y1="202.1" x2="633.4" y2="177.1"><stop offset="0.000" stop-color="#f59256"/><stop offset="0.576" stop-color="#f67a5f"/><stop offset="1.000" stop-color="#f77063"/></linearGradient><linearGradient id="g294" gradientUnits="userSpaceOnUse" x1="609.1" y1="191.9" x2="613.8" y2="169.3"><stop offset="0.000" stop-color="#f6875b"/><stop offset="0.343" stop-color="#f67a5f"/><stop offset="1.000" stop-color="#f76d64"/></linearGradient><linearGradient id="g295" gradientUnits="userSpaceOnUse" x1="588.1" y1="183.7" x2="594.6" y2="163.4"><stop offset="0.000" stop-color="#f6815c"/><stop offset="0.229" stop-color="#f67a5f"/><stop offset="1.000" stop-color="#f76c64"/></linearGradient><linearGradient id="g296" gradientUnits="userSpaceOnUse" x1="565.5" y1="180.8" x2="577.5" y2="155.9"><stop offset="0.000" stop-color="#f6885a"/><stop offset="0.366" stop-color="#f67a5f"/><stop offset="1.000" stop-color="#f76d64"/></linearGradient><linearGradient id="g297" gradientUnits="userSpaceOnUse" x1="541.5" y1="178.9" x2="562.3" y2="151.3"><stop offset="0.000" stop-color="#f59555"/><stop offset="0.602" stop-color="#f67a5f"/><stop offset="1.000" stop-color="#f77063"/></linearGradient><linearGradient id="g298" gradientUnits="userSpaceOnUse" x1="516.3" y1="175.9" x2="548.7" y2="151.3"><stop offset="0.000" stop-color="#f5ae55"/><stop offset="0.351" stop-color="#f59655"/><stop offset="0.897" stop-color="#f67a5f"/><stop offset="1.000" stop-color="#f67760"/></linearGradient><linearGradient id="g299" gradientUnits="userSpaceOnUse" x1="493.2" y1="170.4" x2="533.7" y2="157.4"><stop offset="0.000" stop-color="#f5cb55"/><stop offset="0.292" stop-color="#f5b955"/><stop offset="0.748" stop-color="#f59655"/><stop offset="1.000" stop-color="#f6875a"/></linearGradient><linearGradient id="g300" gradientUnits="userSpaceOnUse" x1="475.4" y1="165.4" x2="513.7" y2="166.6"><stop offset="0.000" stop-color="#f1ec51"/><stop offset="0.324" stop-color="#f5d755"/><stop offset="0.750" stop-color="#f5b955"/><stop offset="1.000" stop-color="#f5a455"/></linearGradient><linearGradient id="g301" gradientUnits="userSpaceOnUse" x1="461.3" y1="165.2" x2="490.6" y2="174.5"><stop offset="0.000" stop-color="#bcf046"/><stop offset="0.101" stop-color="#c8f046"/><stop offset="0.473" stop-color="#f0f050"/><stop offset="0.823" stop-color="#f5d755"/><stop offset="1.000" stop-color="#f5c955"/></linearGradient><linearGradient id="g302" gradientUnits="userSpaceOnUse" x1="891.9" y1="429.7" x2="882.1" y2="382.2"><stop offset="0.000" stop-color="#161afa"/><stop offset="0.199" stop-color="#1923fa"/><stop offset="0.564" stop-color="#1e3afa"/><stop offset="0.979" stop-color="#2a6efa"/><stop offset="1.000" stop-color="#2b71fa"/></linearGradient><linearGradient id="g303" gradientUnits="userSpaceOnUse" x1="869.3" y1="397.3" x2="860.8" y2="351.6"><stop offset="0.000" stop-color="#2351fa"/><stop offset="0.244" stop-color="#2a6efa"/><stop offset="0.376" stop-color="#2e82fa"/><stop offset="0.641" stop-color="#34acfa"/><stop offset="0.997" stop-color="#34e2ee"/><stop offset="1.000" stop-color="#34e2ee"/></linearGradient><linearGradient id="g304" gradientUnits="userSpaceOnUse" x1="846.7" y1="367.0" x2="839.5" y2="323.2"><stop offset="0.000" stop-color="#34b9f7"/><stop offset="0.284" stop-color="#34e2ee"/><stop offset="0.661" stop-color="#34eecd"/><stop offset="0.968" stop-color="#3cf0a0"/><stop offset="1.000" stop-color="#3df09b"/></linearGradient><linearGradient id="g305" gradientUnits="userSpaceOnUse" x1="824.3" y1="338.7" x2="818.3" y2="296.8"><stop offset="0.000" stop-color="#35eec6"/><stop offset="0.277" stop-color="#3cf0a0"/><stop offset="0.779" stop-color="#46f055"/><stop offset="1.000" stop-color="#53f050"/></linearGradient><linearGradient id="g306" gradientUnits="userSpaceOnUse" x1="802.1" y1="312.6" x2="797.2" y2="272.6"><stop offset="0.000" stop-color="#44f063"/><stop offset="0.102" stop-color="#46f055"/><stop offset="0.826" stop-color="#6ef046"/><stop offset="1.000" stop-color="#8af046"/></linearGradient><linearGradient id="g307" gradientUnits="userSpaceOnUse" x1="779.9" y1="288.5" x2="776.3" y2="250.5"><stop offset="0.000" stop-color="#65f04a"/><stop offset="0.181" stop-color="#6ef046"/><stop offset="0.518" stop-color="#a0f046"/><stop offset="0.821" stop-color="#c8f046"/><stop offset="1.000" stop-color="#ddf04b"/></linearGradient><linearGradient id="g308" gradientUnits="userSpaceOnUse" x1="758.0" y1="266.5" x2="755.4" y2="230.5"><stop offset="0.000" stop-color="#aef046"/><stop offset="0.210" stop-color="#c8f046"/><stop offset="0.572" stop-color="#f0f050"/><stop offset="0.913" stop-color="#f5d755"/><stop offset="1.000" stop-color="#f5d055"/></linearGradient><linearGradient id="g309" gradientUnits="userSpaceOnUse" x1="736.1" y1="246.5" x2="734.7" y2="212.5"><stop offset="0.000" stop-color="#f0ef50"/><stop offset="0.349" stop-color="#f5d755"/><stop offset="0.757" stop-color="#f5b955"/><stop offset="1.000" stop-color="#f5a355"/></linearGradient><linearGradient id="g310" gradientUnits="userSpaceOnUse" x1="714.5" y1="228.6" x2="714.2" y2="196.6"><stop offset="0.000" stop-color="#f5c855"/><stop offset="0.227" stop-color="#f5b955"/><stop offset="0.655" stop-color="#f59655"/><stop offset="1.000" stop-color="#f6815d"/></linearGradient><linearGradient id="g311" gradientUnits="userSpaceOnUse" x1="693.0" y1="212.6" x2="693.8" y2="182.7"><stop offset="0.000" stop-color="#f5a355"/><stop offset="0.171" stop-color="#f59655"/><stop offset="0.671" stop-color="#f67a5f"/><stop offset="1.000" stop-color="#f77063"/></linearGradient><linearGradient id="g312" gradientUnits="userSpaceOnUse" x1="671.7" y1="198.6" x2="673.7" y2="170.9"><stop offset="0.000" stop-color="#f6875a"/><stop offset="0.256" stop-color="#f67a5f"/><stop offset="0.897" stop-color="#f76866"/><stop offset="1.000" stop-color="#f76766"/></linearGradient><linearGradient id="g313" gradientUnits="userSpaceOnUse" x1="650.5" y1="186.6" x2="653.8" y2="161.1"><stop offset="0.000" stop-color="#f67760"/><stop offset="0.597" stop-color="#f76866"/><stop offset="1.000" stop-color="#f66466"/></linearGradient><linearGradient id="g314" gradientUnits="userSpaceOnUse" x1="629.5" y1="176.4" x2="634.2" y2="153.3"><stop offset="0.000" stop-color="#f77063"/><stop offset="0.369" stop-color="#f76866"/><stop offset="1.000" stop-color="#f66366"/></linearGradient><linearGradient id="g315" gradientUnits="userSpaceOnUse" x1="608.6" y1="167.9" x2="614.8" y2="147.6"><stop offset="0.000" stop-color="#f76d64"/><stop offset="0.249" stop-color="#f76866"/><stop offset="1.000" stop-color="#f66366"/></linearGradient><linearGradient id="g316" gradientUnits="userSpaceOnUse" x1="586.3" y1="165.0" x2="597.3" y2="140.3"><stop offset="0.000" stop-color="#f77063"/><stop offset="0.366" stop-color="#f76866"/><stop offset="1.000" stop-color="#f66366"/></linearGradient><linearGradient id="g317" gradientUnits="userSpaceOnUse" x1="562.8" y1="163.2" x2="581.6" y2="135.4"><stop offset="0.000" stop-color="#f67760"/><stop offset="0.585" stop-color="#f76866"/><stop offset="1.000" stop-color="#f66466"/></linearGradient><linearGradient id="g318" gradientUnits="userSpaceOnUse" x1="538.1" y1="161.1" x2="567.4" y2="134.5"><stop offset="0.000" stop-color="#f6875a"/><stop offset="0.255" stop-color="#f67a5f"/><stop offset="0.867" stop-color="#f76866"/><stop offset="1.000" stop-color="#f76666"/></linearGradient><linearGradient id="g319" gradientUnits="userSpaceOnUse" x1="514.2" y1="157.0" x2="553.1" y2="139.3"><stop offset="0.000" stop-color="#f5a455"/><stop offset="0.175" stop-color="#f59655"/><stop offset="0.647" stop-color="#f67a5f"/><stop offset="1.000" stop-color="#f76e64"/></linearGradient><linearGradient id="g320" gradientUnits="userSpaceOnUse" x1="494.6" y1="152.2" x2="534.9" y2="148.3"><stop offset="0.000" stop-color="#f5c955"/><stop offset="0.227" stop-color="#f5b955"/><stop offset="0.629" stop-color="#f59655"/><stop offset="1.000" stop-color="#f67e5e"/></linearGradient><linearGradient id="g321" gradientUnits="userSpaceOnUse" x1="479.5" y1="150.7" x2="512.6" y2="157.3"><stop offset="0.000" stop-color="#f0f050"/><stop offset="0.341" stop-color="#f5d755"/><stop offset="0.720" stop-color="#f5b955"/><stop offset="1.000" stop-color="#f59e55"/></linearGradient><linearGradient id="g322" gradientUnits="userSpaceOnUse" x1="911.9" y1="413.1" x2="902.3" y2="365.2"><stop offset="0.000" stop-color="#1a26fa"/><stop offset="0.309" stop-color="#1e3afa"/><stop offset="0.715" stop-color="#2a6efa"/><stop offset="0.838" stop-color="#2e82fa"/><stop offset="1.000" stop-color="#329efa"/></linearGradient><linearGradient id="g323" gradientUnits="userSpaceOnUse" x1="889.3" y1="380.8" x2="881.0" y2="334.7"><stop offset="0.000" stop-color="#2b71fa"/><stop offset="0.107" stop-color="#2e82fa"/><stop offset="0.366" stop-color="#34acfa"/><stop offset="0.714" stop-color="#34e2ee"/><stop offset="1.000" stop-color="#34ecd3"/></linearGradient><linearGradient id="g324" gradientUnits="userSpaceOnUse" x1="866.8" y1="350.6" x2="859.8" y2="306.3"><stop offset="0.000" stop-color="#34e2ee"/><stop offset="0.365" stop-color="#34eecd"/><stop offset="0.665" stop-color="#3cf0a0"/><stop offset="1.000" stop-color="#43f06a"/></linearGradient><linearGradient id="g325" gradientUnits="userSpaceOnUse" x1="844.4" y1="322.4" x2="838.6" y2="280.1"><stop offset="0.000" stop-color="#3df09b"/><stop offset="0.457" stop-color="#46f055"/><stop offset="1.000" stop-color="#67f049"/></linearGradient><linearGradient id="g326" gradientUnits="userSpaceOnUse" x1="822.2" y1="296.3" x2="817.6" y2="255.9"><stop offset="0.000" stop-color="#53f050"/><stop offset="0.476" stop-color="#6ef046"/><stop offset="0.782" stop-color="#a0f046"/><stop offset="1.000" stop-color="#c0f046"/></linearGradient><linearGradient id="g327" gradientUnits="userSpaceOnUse" x1="800.1" y1="272.3" x2="796.6" y2="233.9"><stop offset="0.000" stop-color="#8af046"/><stop offset="0.146" stop-color="#a0f046"/><stop offset="0.441" stop-color="#c8f046"/><stop offset="0.768" stop-color="#f0f050"/><stop offset="1.000" stop-color="#f4dd54"/></linearGradient><linearGradient id="g328" gradientUnits="userSpaceOnUse" x1="778.1" y1="250.3" x2="775.8" y2="213.9"><stop offset="0.000" stop-color="#ddf04b"/><stop offset="0.165" stop-color="#f0f050"/><stop offset="0.495" stop-color="#f5d755"/><stop offset="0.860" stop-color="#f5b955"/><stop offset="1.000" stop-color="#f5ab55"/></linearGradient><linearGradient id="g329" gradientUnits="userSpaceOnUse" x1="756.3" y1="230.4" x2="755.1" y2="196.0"><stop offset="0.000" stop-color="#f5d055"/><stop offset="0.303" stop-color="#f5b955"/><stop offset="0.683" stop-color="#f59655"/><stop offset="1.000" stop-color="#f6805d"/></linearGradient><linearGradient id="g330" gradientUnits="userSpaceOnUse" x1="734.7" y1="212.5" x2="734.5" y2="180.1"><stop offset="0.000" stop-color="#f5a355"/><stop offset="0.157" stop-color="#f59655"/><stop offset="0.595" stop-color="#f67a5f"/><stop offset="1.000" stop-color="#f76c65"/></linearGradient><linearGradient id="g331" gradientUnits="userSpaceOnUse" x1="713.2" y1="196.6" x2="714.2" y2="166.2"><stop offset="0.000" stop-color="#f6815d"/><stop offset="0.115" stop-color="#f67a5f"/><stop offset="0.668" stop-color="#f76866"/><stop offset="1.000" stop-color="#f66466"/></linearGradient><linearGradient id="g332" gradientUnits="userSpaceOnUse" x1="691.9" y1="182.6" x2="694.0" y2="154.4"><stop offset="0.000" stop-color="#f77063"/><stop offset="0.262" stop-color="#f76866"/><stop offset="0.784" stop-color="#f66266"/><stop offset="1.000" stop-color="#f66266"/></linearGradient><linearGradient id="g333" gradientUnits="userSpaceOnUse" x1="670.7" y1="170.6" x2="674.1" y2="144.6"><stop offset="0.000" stop-color="#f76766"/><stop offset="0.476" stop-color="#f66266"/><stop offset="1.000" stop-color="#f66266"/></linearGradient><linearGradient id="g334" gradientUnits="userSpaceOnUse" x1="649.7" y1="160.4" x2="654.3" y2="136.9"><stop offset="0.000" stop-color="#f66466"/><stop offset="0.232" stop-color="#f66266"/><stop offset="1.000" stop-color="#f66266"/></linearGradient><linearGradient id="g335" gradientUnits="userSpaceOnUse" x1="628.9" y1="152.0" x2="634.9" y2="131.2"><stop offset="0.000" stop-color="#f66366"/><stop offset="0.084" stop-color="#f66266"/><stop offset="1.000" stop-color="#f66266"/></linearGradient><linearGradient id="g336" gradientUnits="userSpaceOnUse" x1="606.9" y1="148.7" x2="617.1" y2="124.1"><stop offset="0.000" stop-color="#f66466"/><stop offset="0.204" stop-color="#f66266"/><stop offset="1.000" stop-color="#f66266"/></linearGradient><linearGradient id="g337" gradientUnits="userSpaceOnUse" x1="583.8" y1="147.0" x2="600.8" y2="119.2"><stop offset="0.000" stop-color="#f76666"/><stop offset="0.430" stop-color="#f66266"/><stop offset="1.000" stop-color="#f66266"/></linearGradient><linearGradient id="g338" gradientUnits="userSpaceOnUse" x1="559.5" y1="145.6" x2="586.2" y2="117.6"><stop offset="0.000" stop-color="#f76e64"/><stop offset="0.209" stop-color="#f76866"/><stop offset="0.716" stop-color="#f66266"/><stop offset="1.000" stop-color="#f66266"/></linearGradient><linearGradient id="g339" gradientUnits="userSpaceOnUse" x1="535.3" y1="142.7" x2="572.0" y2="121.0"><stop offset="0.000" stop-color="#f67e5e"/><stop offset="0.059" stop-color="#f67a5f"/><stop offset="0.589" stop-color="#f76866"/><stop offset="1.000" stop-color="#f66366"/></linearGradient><linearGradient id="g340" gradientUnits="userSpaceOnUse" x1="514.2" y1="138.5" x2="555.2" y2="129.4"><stop offset="0.000" stop-color="#f59e55"/><stop offset="0.092" stop-color="#f59655"/><stop offset="0.508" stop-color="#f67a5f"/><stop offset="0.987" stop-color="#f76866"/><stop offset="1.000" stop-color="#f76866"/></linearGradient><linearGradient id="g341" gradientUnits="userSpaceOnUse" x1="497.7" y1="136.3" x2="534.2" y2="139.2"><stop offset="0.000" stop-color="#f5cb55"/><stop offset="0.225" stop-color="#f5b955"/><stop offset="0.582" stop-color="#f59655"/><stop offset="0.961" stop-color="#f67a5f"/><stop offset="1.000" stop-color="#f67860"/></linearGradient><linearGradient id="g342" gradientUnits="userSpaceOnUse" x1="931.7" y1="396.1" x2="922.3" y2="347.7"><stop offset="0.000" stop-color="#1d37fa"/><stop offset="0.050" stop-color="#1e3afa"/><stop offset="0.447" stop-color="#2a6efa"/><stop offset="0.567" stop-color="#2e82fa"/><stop offset="0.808" stop-color="#34acfa"/><stop offset="1.000" stop-color="#34ccf3"/></linearGradient><linearGradient id="g343" gradientUnits="userSpaceOnUse" x1="909.1" y1="363.9" x2="901.1" y2="317.3"><stop offset="0.000" stop-color="#329efa"/><stop offset="0.086" stop-color="#34acfa"/><stop offset="0.427" stop-color="#34e2ee"/><stop offset="0.768" stop-color="#34eecd"/><stop offset="1.000" stop-color="#3bf0a7"/></linearGradient><linearGradient id="g344" gradientUnits="userSpaceOnUse" x1="886.7" y1="333.7" x2="879.9" y2="289.0"><stop offset="0.000" stop-color="#34ecd3"/><stop offset="0.065" stop-color="#34eecd"/><stop offset="0.358" stop-color="#3cf0a0"/><stop offset="0.810" stop-color="#46f055"/><stop offset="1.000" stop-color="#52f050"/></linearGradient><linearGradient id="g345" gradientUnits="userSpaceOnUse" x1="864.4" y1="305.6" x2="858.8" y2="262.8"><stop offset="0.000" stop-color="#43f06a"/><stop offset="0.132" stop-color="#46f055"/><stop offset="0.778" stop-color="#6ef046"/><stop offset="1.000" stop-color="#95f046"/></linearGradient><linearGradient id="g346" gradientUnits="userSpaceOnUse" x1="842.1" y1="279.6" x2="837.7" y2="238.7"><stop offset="0.000" stop-color="#67f049"/><stop offset="0.124" stop-color="#6ef046"/><stop offset="0.422" stop-color="#a0f046"/><stop offset="0.691" stop-color="#c8f046"/><stop offset="0.989" stop-color="#f0f050"/><stop offset="1.000" stop-color="#f0ef50"/></linearGradient><linearGradient id="g347" gradientUnits="userSpaceOnUse" x1="820.1" y1="255.6" x2="816.8" y2="216.7"><stop offset="0.000" stop-color="#c0f046"/><stop offset="0.060" stop-color="#c8f046"/><stop offset="0.378" stop-color="#f0f050"/><stop offset="0.677" stop-color="#f5d755"/><stop offset="1.000" stop-color="#f5ba55"/></linearGradient><linearGradient id="g348" gradientUnits="userSpaceOnUse" x1="798.1" y1="233.7" x2="795.9" y2="196.8"><stop offset="0.000" stop-color="#f4dd54"/><stop offset="0.078" stop-color="#f5d755"/><stop offset="0.432" stop-color="#f5b955"/><stop offset="0.773" stop-color="#f59655"/><stop offset="1.000" stop-color="#f6845b"/></linearGradient><linearGradient id="g349" gradientUnits="userSpaceOnUse" x1="776.3" y1="213.8" x2="775.2" y2="178.9"><stop offset="0.000" stop-color="#f5ab55"/><stop offset="0.220" stop-color="#f59655"/><stop offset="0.609" stop-color="#f67a5f"/><stop offset="1.000" stop-color="#f76a65"/></linearGradient><linearGradient id="g350" gradientUnits="userSpaceOnUse" x1="754.7" y1="195.9" x2="754.7" y2="163.1"><stop offset="0.000" stop-color="#f6805d"/><stop offset="0.089" stop-color="#f67a5f"/><stop offset="0.575" stop-color="#f76866"/><stop offset="0.989" stop-color="#f66266"/><stop offset="1.000" stop-color="#f66266"/></linearGradient><linearGradient id="g351" gradientUnits="userSpaceOnUse" x1="733.2" y1="180.1" x2="734.3" y2="149.3"><stop offset="0.000" stop-color="#f76c65"/><stop offset="0.104" stop-color="#f76866"/><stop offset="0.557" stop-color="#f66266"/><stop offset="1.000" stop-color="#f66266"/></linearGradient><linearGradient id="g352" gradientUnits="userSpaceOnUse" x1="711.9" y1="166.1" x2="714.1" y2="137.5"><stop offset="0.000" stop-color="#f66466"/><stop offset="0.148" stop-color="#f66266"/><stop offset="1.000" stop-color="#f66266"/></linearGradient><linearGradient id="g353" gradientUnits="userSpaceOnUse" x1="580.6" y1="129.4" x2="604.8" y2="100.5"><stop offset="0.000" stop-color="#f66366"/><stop offset="0.045" stop-color="#f66266"/><stop offset="1.000" stop-color="#f66266"/></linearGradient><linearGradient id="g354" gradientUnits="userSpaceOnUse" x1="556.5" y1="127.6" x2="590.5" y2="102.8"><stop offset="0.000" stop-color="#f76866"/><stop offset="0.427" stop-color="#f66266"/><stop offset="1.000" stop-color="#f66266"/></linearGradient><linearGradient id="g355" gradientUnits="userSpaceOnUse" x1="534.2" y1="124.3" x2="574.8" y2="110.2"><stop offset="0.000" stop-color="#f67860"/><stop offset="0.427" stop-color="#f76866"/><stop offset="0.826" stop-color="#f66266"/><stop offset="1.000" stop-color="#f66266"/></linearGradient><linearGradient id="g356" gradientUnits="userSpaceOnUse" x1="516.2" y1="121.7" x2="555.2" y2="120.3"><stop offset="0.000" stop-color="#f59d55"/><stop offset="0.074" stop-color="#f59655"/><stop offset="0.446" stop-color="#f67a5f"/><stop offset="0.873" stop-color="#f76866"/><stop offset="1.000" stop-color="#f76666"/></linearGradient><linearGradient id="g357" gradientUnits="userSpaceOnUse" x1="951.3" y1="378.6" x2="942.2" y2="329.8"><stop offset="0.000" stop-color="#2557fa"/><stop offset="0.174" stop-color="#2a6efa"/><stop offset="0.292" stop-color="#2e82fa"/><stop offset="0.528" stop-color="#34acfa"/><stop offset="0.846" stop-color="#34e2ee"/><stop offset="1.000" stop-color="#34e8de"/></linearGradient><linearGradient id="g358" gradientUnits="userSpaceOnUse" x1="928.8" y1="346.5" x2="921.0" y2="299.5"><stop offset="0.000" stop-color="#34ccf3"/><stop offset="0.136" stop-color="#34e2ee"/><stop offset="0.470" stop-color="#34eecd"/><stop offset="0.742" stop-color="#3cf0a0"/><stop offset="1.000" stop-color="#42f072"/></linearGradient><linearGradient id="g359" gradientUnits="userSpaceOnUse" x1="906.4" y1="316.4" x2="899.8" y2="271.3"><stop offset="0.000" stop-color="#3bf0a7"/><stop offset="0.048" stop-color="#3cf0a0"/><stop offset="0.489" stop-color="#46f055"/><stop offset="1.000" stop-color="#68f048"/></linearGradient><linearGradient id="g360" gradientUnits="userSpaceOnUse" x1="884.1" y1="288.4" x2="878.7" y2="245.1"><stop offset="0.000" stop-color="#52f050"/><stop offset="0.434" stop-color="#6ef046"/><stop offset="0.709" stop-color="#a0f046"/><stop offset="0.955" stop-color="#c8f046"/><stop offset="1.000" stop-color="#cff048"/></linearGradient><linearGradient id="g361" gradientUnits="userSpaceOnUse" x1="861.9" y1="262.4" x2="857.7" y2="221.1"><stop offset="0.000" stop-color="#95f046"/><stop offset="0.061" stop-color="#a0f046"/><stop offset="0.322" stop-color="#c8f046"/><stop offset="0.613" stop-color="#f0f050"/><stop offset="0.886" stop-color="#f5d755"/><stop offset="1.000" stop-color="#f5cc55"/></linearGradient><linearGradient id="g362" gradientUnits="userSpaceOnUse" x1="839.9" y1="238.5" x2="836.7" y2="199.2"><stop offset="0.000" stop-color="#f0ef50"/><stop offset="0.279" stop-color="#f5d755"/><stop offset="0.600" stop-color="#f5b955"/><stop offset="0.909" stop-color="#f59655"/><stop offset="1.000" stop-color="#f58e58"/></linearGradient><linearGradient id="g363" gradientUnits="userSpaceOnUse" x1="818.0" y1="216.7" x2="815.9" y2="179.3"><stop offset="0.000" stop-color="#f5ba55"/><stop offset="0.007" stop-color="#f5b955"/><stop offset="0.338" stop-color="#f59655"/><stop offset="0.688" stop-color="#f67a5f"/><stop offset="1.000" stop-color="#f76c64"/></linearGradient><linearGradient id="g364" gradientUnits="userSpaceOnUse" x1="796.2" y1="196.8" x2="795.2" y2="161.5"><stop offset="0.000" stop-color="#f6845b"/><stop offset="0.140" stop-color="#f67a5f"/><stop offset="0.573" stop-color="#f76866"/><stop offset="0.943" stop-color="#f66266"/><stop offset="1.000" stop-color="#f66266"/></linearGradient><linearGradient id="g365" gradientUnits="userSpaceOnUse" x1="774.6" y1="178.9" x2="774.6" y2="145.7"><stop offset="0.000" stop-color="#f76a65"/><stop offset="0.060" stop-color="#f76866"/><stop offset="0.460" stop-color="#f66266"/><stop offset="1.000" stop-color="#f66266"/></linearGradient><linearGradient id="g366" gradientUnits="userSpaceOnUse" x1="554.5" y1="109.4" x2="593.7" y2="90.8"><stop offset="0.000" stop-color="#f76666"/><stop offset="0.255" stop-color="#f66266"/><stop offset="1.000" stop-color="#f66266"/></linearGradient><linearGradient id="g367" gradientUnits="userSpaceOnUse" x1="535.0" y1="107.0" x2="575.6" y2="100.7"><stop offset="0.000" stop-color="#f67760"/><stop offset="0.345" stop-color="#f76866"/><stop offset="0.702" stop-color="#f66266"/><stop offset="1.000" stop-color="#f66266"/></linearGradient></defs><rect width="982" height="880" fill="#fff"/><g stroke="#333" stroke-width="1.4" stroke-linecap="round"><line x1="136.3" y1="525.4" x2="554.6" y2="387.2"/><line x1="554.6" y1="387.2" x2="958.6" y2="533.9"/><line x1="132.1" y1="441.4" x2="554.9" y2="310.9"/><line x1="554.9" y1="310.9" x2="963.0" y2="449.5"/><line x1="128.0" y1="357.4" x2="555.3" y2="234.7"/><line x1="555.3" y1="234.7" x2="967.3" y2="365.1"/><line x1="123.8" y1="273.3" x2="555.7" y2="158.5"/><line x1="555.7" y1="158.5" x2="971.7" y2="280.7"/><line x1="119.7" y1="189.3" x2="556.0" y2="82.2"/><line x1="556.0" y1="82.2" x2="976.0" y2="196.3"/><line x1="115.5" y1="105.3" x2="556.4" y2="6.0"/><line x1="556.4" y1="6.0" x2="980.4" y2="111.9"/><line x1="240.9" y1="490.9" x2="225.7" y2="80.5"/><line x1="345.4" y1="456.3" x2="335.9" y2="55.6"/><line x1="450.0" y1="421.7" x2="446.2" y2="30.8"/><line x1="655.6" y1="423.9" x2="662.4" y2="32.5"/><line x1="756.6" y1="460.6" x2="768.4" y2="59.0"/><line x1="857.6" y1="497.2" x2="874.4" y2="85.4"/><line x1="142.8" y1="656.5" x2="115.5" y2="105.3"/><line x1="951.8" y1="665.6" x2="980.4" y2="111.9"/><line x1="554.0" y1="506.1" x2="556.4" y2="6.0"/></g><polygon points="142.8,656.5 534.9,859.9 951.8,665.6 554.0,506.1" fill="#ffff00" stroke="#333" stroke-width="1.3" stroke-linejoin="round"/><polyline points="431.0,806.0 436.7,803.3 442.5,800.7 448.3,798.1 454.1,795.6 459.9,793.1 465.8,790.6 471.7,788.2 477.7,785.8 483.7,783.4 489.7,781.1 493.9,779.5 498.8,777.7 505.0,775.4 511.1,773.2 517.3,771.0 523.5,768.9 526.6,767.8 532.9,765.7 539.2,763.6 545.5,761.6 548.7,760.5 555.0,758.5 561.4,756.5 566.8,754.9 571.1,753.6 577.5,751.7 583.8,749.8 587.2,748.8 593.8,747.0 599.4,745.4 603.6,744.2 610.2,742.4 614.0,741.4 620.0,739.8 626.7,738.0 630.0,737.1 636.6,735.4 640.9,734.3 646.7,732.9 653.4,731.2 656.7,730.3 663.4,728.7 666.8,727.9 673.5,726.2 677.6,725.3 683.7,723.8 689.0,722.6 693.8,721.5 700.3,720.0 704.0,719.1 710.9,717.6 714.3,716.8 721.1,715.3 724.5,714.6 731.4,713.1 734.8,712.3 741.6,710.8 745.1,710.1 751.9,708.6 755.4,707.9 762.3,706.5 765.7,705.8 772.6,704.3 776.0,703.6 782.7,702.3 786.4,701.5 792.3,700.3 796.8,699.4 801.8,698.4 807.1,697.4 811.2,696.6 817.5,695.3 821.0,694.7 827.9,693.3 831.4,692.7 838.3,691.3 841.8,690.7 848.0,689.5 852.2,688.7 857.0,687.8 862.6,686.7 866.1,686.1 873.0,684.8 876.5,684.2 883.4,682.9 886.9,682.3 892.2,681.3 897.3,680.4 900.9,679.7 907.8,678.5 911.2,677.9 918.0,676.7 921.6,676.0 926.5,675.1 932.1,674.2" fill="none" stroke="#66e833" stroke-width="1.4"/><polyline points="445.7,545.6 445.0,547.6 444.4,549.3 443.9,551.0 443.3,552.8 442.8,554.5 442.2,556.3 441.7,558.0 441.2,559.8 440.7,561.6 440.2,563.6 439.7,565.6 439.3,567.6 438.8,569.5 438.4,571.5 438.1,573.5 437.7,575.4 437.4,577.4 437.2,579.3 436.9,581.2 436.7,583.1 436.6,585.1 436.5,587.0 436.4,588.9 436.4,590.7 436.4,592.6 436.5,594.7 436.6,596.8 436.9,599.1 437.2,601.3 437.5,603.5 437.9,605.3 438.4,607.0 438.9,608.7 439.7,611.0 440.8,613.7 441.6,615.4 442.4,617.0 443.8,619.4 445.4,621.7 446.6,623.3 449.1,626.2 450.5,627.6 453.6,630.4 455.3,631.7 458.9,634.3 462.9,636.7 465.2,638.0 469.7,640.1 472.8,641.5 477.4,643.2 483.0,645.0 489.0,646.7 492.2,647.5 498.9,649.0 502.4,649.6 507.3,650.5 513.4,651.4 517.3,652.0 521.4,652.5 527.8,653.1 533.7,653.7 538.0,654.0 542.4,654.3 546.9,654.6 551.5,654.8 556.5,655.0 561.9,655.2 567.1,655.4 572.2,655.5 577.3,655.6 582.3,655.6 587.3,655.6 592.2,655.6 597.0,655.6 601.8,655.6 606.8,655.5 612.3,655.4 617.7,655.3 623.3,655.1 628.8,654.9 634.4,654.7 638.9,654.6 643.4,654.4 647.9,654.2 652.3,654.0 657.5,653.8 663.3,653.5 669.2,653.2 674.3,652.9 678.6,652.7 682.9,652.4 687.2,652.1 693.1,651.8 699.2,651.4 704.3,651.1 708.5,650.8 712.7,650.5 717.6,650.2 723.8,649.7 729.5,649.3 733.6,649.0 737.8,648.7 742.5,648.3 748.8,647.8 754.3,647.4 758.4,647.1 762.5,646.7 767.7,646.3 774.1,645.8 778.7,645.4 782.8,645.0 786.9,644.7 793.3,644.1 798.9,643.6 802.9,643.3 806.9,642.9 812.6,642.4 818.9,641.8 822.8,641.5 826.8,641.1 832.0,640.6 838.5,640.0 842.6,639.6 846.5,639.2 851.6,638.8 858.1,638.1 862.2,637.7 866.1,637.3 871.2,636.8 877.8,636.2" fill="none" stroke="#66e833" stroke-width="1.4"/><polyline points="584.2,517.6 585.6,520.0 586.6,521.5 587.5,522.9 589.0,525.0 590.6,527.0 591.7,528.4 593.3,530.3 595.2,532.4 596.4,533.7 599.0,536.3 600.4,537.7 602.6,539.6 604.7,541.4 607.0,543.3 609.5,545.1 612.8,547.5 614.6,548.7 618.2,551.0 621.5,552.9 624.0,554.3 628.1,556.5 632.4,558.6 636.9,560.6 641.6,562.6 646.4,564.5 651.5,566.3 656.8,568.0 662.2,569.7 665.0,570.6 670.8,572.2 676.7,573.7 679.8,574.4 686.0,575.8 689.2,576.5 695.8,577.8 699.1,578.4 704.6,579.4 709.5,580.2 713.0,580.8 719.7,581.7 723.9,582.3 727.6,582.8 733.3,583.5 739.1,584.1 743.0,584.6 746.9,585.0 752.2,585.5" fill="none" stroke="#66e833" stroke-width="1.4"/><g stroke="none"><polygon points="535.0,631.5 559.2,622.8 536.3,588.5 512.1,597.1" fill="#1313fa"/><polygon points="512.1,597.1 536.3,588.5 513.6,556.4 489.4,564.9" fill="#1313fa"/><polygon points="489.4,564.9 513.6,556.4 491.2,526.7 466.9,535.1" fill="url(#g0)"/><polygon points="466.9,535.1 491.2,526.7 469.0,499.2 444.6,507.5" fill="url(#g1)"/><polygon points="444.6,507.5 469.0,499.2 446.9,474.0 422.6,482.3" fill="url(#g2)"/><polygon points="422.6,482.3 446.9,474.0 425.2,451.1 400.8,459.3" fill="url(#g3)"/><polygon points="400.8,459.3 425.2,451.1 403.7,430.4 379.3,438.5" fill="url(#g4)"/><polygon points="379.3,438.5 403.7,430.4 382.4,411.8 358.1,419.9" fill="url(#g5)"/><polygon points="358.1,419.9 382.4,411.8 361.5,395.5 337.1,403.6" fill="url(#g6)"/><polygon points="337.1,403.6 361.5,395.5 340.8,381.3 316.5,389.4" fill="url(#g7)"/><polygon points="316.5,389.4 340.8,381.3 320.5,369.3 296.1,377.4" fill="url(#g8)"/><polygon points="296.1,377.4 320.5,369.3 300.4,359.4 276.1,367.5" fill="url(#g9)"/><polygon points="276.1,367.5 300.4,359.4 280.6,351.5 256.4,359.6" fill="url(#g10)"/><polygon points="256.4,359.6 280.6,351.5 261.2,345.6 237.0,353.8" fill="url(#g11)"/><polygon points="237.0,353.8 261.2,345.6 242.1,341.8 218.0,350.0" fill="url(#g12)"/><polygon points="218.0,350.0 242.1,341.8 223.4,339.9 199.3,348.1" fill="url(#g13)"/><polygon points="199.3,348.1 223.4,339.9 205.0,339.9 181.0,348.2" fill="url(#g14)"/><polygon points="181.0,348.2 205.0,339.9 186.9,341.7 163.0,350.2" fill="url(#g15)"/><polygon points="163.0,350.2 186.9,341.7 169.2,345.5 145.3,354.0" fill="url(#g16)"/><polygon points="145.3,354.0 169.2,345.5 151.8,350.9 128.1,359.5" fill="url(#g17)"/><polygon points="559.2,622.8 583.0,613.5 560.2,579.3 536.3,588.5" fill="#1313fa"/><polygon points="536.3,588.5 560.2,579.3 537.6,547.4 513.6,556.4" fill="#1313fa"/><polygon points="513.6,556.4 537.6,547.4 515.1,517.8 491.2,526.7" fill="url(#g18)"/><polygon points="491.2,526.7 515.1,517.8 492.9,490.4 469.0,499.2" fill="url(#g19)"/><polygon points="469.0,499.2 492.9,490.4 471.0,465.3 446.9,474.0" fill="url(#g20)"/><polygon points="446.9,474.0 471.0,465.3 449.2,442.4 425.2,451.1" fill="url(#g21)"/><polygon points="425.2,451.1 449.2,442.4 427.7,421.7 403.7,430.4" fill="url(#g22)"/><polygon points="403.7,430.4 427.7,421.7 406.5,403.2 382.4,411.8" fill="url(#g23)"/><polygon points="382.4,411.8 406.5,403.2 385.5,386.9 361.5,395.5" fill="url(#g24)"/><polygon points="361.5,395.5 385.5,386.9 364.8,372.7 340.8,381.3" fill="url(#g25)"/><polygon points="340.8,381.3 364.8,372.7 344.4,360.7 320.5,369.3" fill="url(#g26)"/><polygon points="320.5,369.3 344.4,360.7 324.3,350.7 300.4,359.4" fill="url(#g27)"/><polygon points="300.4,359.4 324.3,350.7 304.6,342.8 280.6,351.5" fill="url(#g28)"/><polygon points="280.6,351.5 304.6,342.8 285.1,336.9 261.2,345.6" fill="url(#g29)"/><polygon points="261.2,345.6 285.1,336.9 265.9,333.0 242.1,341.8" fill="url(#g30)"/><polygon points="242.1,341.8 265.9,333.0 247.1,331.1 223.4,339.9" fill="url(#g31)"/><polygon points="223.4,339.9 247.1,331.1 228.6,331.0 205.0,339.9" fill="url(#g32)"/><polygon points="205.0,339.9 228.6,331.0 210.5,332.8 186.9,341.7" fill="url(#g33)"/><polygon points="186.9,341.7 210.5,332.8 192.7,336.4 169.2,345.5" fill="url(#g34)"/><polygon points="169.2,345.5 192.7,336.4 175.2,341.8 151.8,350.9" fill="url(#g35)"/><polygon points="583.0,613.5 606.5,603.6 583.7,569.6 560.2,579.3" fill="#1313fa"/><polygon points="560.2,579.3 583.7,569.6 561.2,537.8 537.6,547.4" fill="#1313fa"/><polygon points="537.6,547.4 561.2,537.8 538.8,508.3 515.1,517.8" fill="url(#g36)"/><polygon points="515.1,517.8 538.8,508.3 516.6,481.0 492.9,490.4" fill="url(#g37)"/><polygon points="492.9,490.4 516.6,481.0 494.7,455.9 471.0,465.3" fill="url(#g38)"/><polygon points="471.0,465.3 494.7,455.9 472.9,433.1 449.2,442.4" fill="url(#g39)"/><polygon points="449.2,442.4 472.9,433.1 451.4,412.5 427.7,421.7" fill="url(#g40)"/><polygon points="427.7,421.7 451.4,412.5 430.2,394.0 406.5,403.2" fill="url(#g41)"/><polygon points="406.5,403.2 430.2,394.0 409.2,377.7 385.5,386.9" fill="url(#g42)"/><polygon points="385.5,386.9 409.2,377.7 388.5,363.6 364.8,372.7" fill="url(#g43)"/><polygon points="364.8,372.7 388.5,363.6 368.1,351.5 344.4,360.7" fill="url(#g44)"/><polygon points="344.4,360.7 368.1,351.5 348.0,341.5 324.3,350.7" fill="url(#g45)"/><polygon points="324.3,350.7 348.0,341.5 328.2,333.6 304.6,342.8" fill="url(#g46)"/><polygon points="304.6,342.8 328.2,333.6 308.7,327.7 285.1,336.9" fill="url(#g47)"/><polygon points="285.1,336.9 308.7,327.7 289.5,323.8 265.9,333.0" fill="url(#g48)"/><polygon points="265.9,333.0 289.5,323.8 270.6,321.7 247.1,331.1" fill="url(#g49)"/><polygon points="247.1,331.1 270.6,321.7 252.0,321.6 228.6,331.0" fill="url(#g50)"/><polygon points="228.6,331.0 252.0,321.6 233.8,323.4 210.5,332.8" fill="url(#g51)"/><polygon points="210.5,332.8 233.8,323.4 215.9,326.9 192.7,336.4" fill="url(#g52)"/><polygon points="192.7,336.4 215.9,326.9 198.4,332.2 175.2,341.8" fill="url(#g53)"/><polygon points="606.5,603.6 629.6,593.3 607.0,559.4 583.7,569.6" fill="#1313fa"/><polygon points="583.7,569.6 607.0,559.4 584.4,527.7 561.2,537.8" fill="#1313fa"/><polygon points="561.2,537.8 584.4,527.7 562.1,498.2 538.8,508.3" fill="url(#g54)"/><polygon points="538.8,508.3 562.1,498.2 540.0,471.0 516.6,481.0" fill="url(#g55)"/><polygon points="516.6,481.0 540.0,471.0 518.0,446.1 494.7,455.9" fill="url(#g56)"/><polygon points="494.7,455.9 518.0,446.1 496.3,423.3 472.9,433.1" fill="url(#g57)"/><polygon points="472.9,433.1 496.3,423.3 474.9,402.7 451.4,412.5" fill="url(#g58)"/><polygon points="451.4,412.5 474.9,402.7 453.6,384.3 430.2,394.0" fill="url(#g59)"/><polygon points="430.2,394.0 453.6,384.3 432.6,368.0 409.2,377.7" fill="url(#g60)"/><polygon points="409.2,377.7 432.6,368.0 411.9,353.9 388.5,363.6" fill="url(#g61)"/><polygon points="388.5,363.6 411.9,353.9 391.5,341.8 368.1,351.5" fill="url(#g62)"/><polygon points="368.1,351.5 391.5,341.8 371.3,331.9 348.0,341.5" fill="url(#g63)"/><polygon points="348.0,341.5 371.3,331.9 351.5,323.9 328.2,333.6" fill="url(#g64)"/><polygon points="328.2,333.6 351.5,323.9 331.9,318.0 308.7,327.7" fill="url(#g65)"/><polygon points="308.7,327.7 331.9,318.0 312.7,314.0 289.5,323.8" fill="url(#g66)"/><polygon points="289.5,323.8 312.7,314.0 293.7,311.9 270.6,321.7" fill="url(#g67)"/><polygon points="270.6,321.7 293.7,311.9 275.1,311.7 252.0,321.6" fill="url(#g68)"/><polygon points="252.0,321.6 275.1,311.7 256.8,313.4 233.8,323.4" fill="url(#g69)"/><polygon points="233.8,323.4 256.8,313.4 238.9,316.9 215.9,326.9" fill="url(#g70)"/><polygon points="215.9,326.9 238.9,316.9 221.2,322.1 198.4,332.2" fill="url(#g71)"/><polygon points="629.6,593.3 652.5,582.4 629.9,548.6 607.0,559.4" fill="#1313fa"/><polygon points="607.0,559.4 629.9,548.6 607.4,517.0 584.4,527.7" fill="#1313fa"/><polygon points="584.4,527.7 607.4,517.0 585.2,487.7 562.1,498.2" fill="url(#g72)"/><polygon points="562.1,498.2 585.2,487.7 563.0,460.6 540.0,471.0" fill="url(#g73)"/><polygon points="540.0,471.0 563.0,460.6 541.1,435.7 518.0,446.1" fill="url(#g74)"/><polygon points="518.0,446.1 541.1,435.7 519.5,413.0 496.3,423.3" fill="url(#g75)"/><polygon points="496.3,423.3 519.5,413.0 498.0,392.4 474.9,402.7" fill="url(#g76)"/><polygon points="474.9,402.7 498.0,392.4 476.8,374.1 453.6,384.3" fill="url(#g77)"/><polygon points="453.6,384.3 476.8,374.1 455.8,357.8 432.6,368.0" fill="url(#g78)"/><polygon points="432.6,368.0 455.8,357.8 435.0,343.7 411.9,353.9" fill="url(#g79)"/><polygon points="411.9,353.9 435.0,343.7 414.6,331.6 391.5,341.8" fill="url(#g80)"/><polygon points="391.5,341.8 414.6,331.6 394.4,321.6 371.3,331.9" fill="url(#g81)"/><polygon points="371.3,331.9 394.4,321.6 374.5,313.7 351.5,323.9" fill="url(#g82)"/><polygon points="351.5,323.9 374.5,313.7 354.9,307.7 331.9,318.0" fill="url(#g83)"/><polygon points="331.9,318.0 354.9,307.7 335.6,303.7 312.7,314.0" fill="url(#g84)"/><polygon points="312.7,314.0 335.6,303.7 316.6,301.6 293.7,311.9" fill="url(#g85)"/><polygon points="293.7,311.9 316.6,301.6 297.9,301.4 275.1,311.7" fill="url(#g86)"/><polygon points="275.1,311.7 297.9,301.4 279.6,303.0 256.8,313.4" fill="url(#g87)"/><polygon points="256.8,313.4 279.6,303.0 261.5,306.4 238.9,316.9" fill="url(#g88)"/><polygon points="238.9,316.9 261.5,306.4 243.8,311.6 221.2,322.1" fill="url(#g89)"/><polygon points="652.5,582.4 675.1,571.0 652.6,537.3 629.9,548.6" fill="#1313fa"/><polygon points="629.9,548.6 652.6,537.3 630.2,505.9 607.4,517.0" fill="#1313fa"/><polygon points="607.4,517.0 630.2,505.9 607.9,476.7 585.2,487.7" fill="url(#g90)"/><polygon points="585.2,487.7 607.9,476.7 585.8,449.6 563.0,460.6" fill="url(#g91)"/><polygon points="563.0,460.6 585.8,449.6 564.0,424.8 541.1,435.7" fill="url(#g92)"/><polygon points="541.1,435.7 564.0,424.8 542.3,402.1 519.5,413.0" fill="url(#g93)"/><polygon points="519.5,413.0 542.3,402.1 520.8,381.6 498.0,392.4" fill="url(#g94)"/><polygon points="498.0,392.4 520.8,381.6 499.6,363.3 476.8,374.1" fill="url(#g95)"/><polygon points="476.8,374.1 499.6,363.3 478.6,347.1 455.8,357.8" fill="url(#g96)"/><polygon points="455.8,357.8 478.6,347.1 457.9,333.0 435.0,343.7" fill="url(#g97)"/><polygon points="435.0,343.7 457.9,333.0 437.4,320.9 414.6,331.6" fill="url(#g98)"/><polygon points="414.6,331.6 437.4,320.9 417.2,310.9 394.4,321.6" fill="url(#g99)"/><polygon points="394.4,321.6 417.2,310.9 397.3,302.9 374.5,313.7" fill="url(#g100)"/><polygon points="374.5,313.7 397.3,302.9 377.6,296.9 354.9,307.7" fill="url(#g101)"/><polygon points="354.9,307.7 377.6,296.9 358.3,292.9 335.6,303.7" fill="url(#g102)"/><polygon points="335.6,303.7 358.3,292.9 339.2,290.7 316.6,301.6" fill="url(#g103)"/><polygon points="316.6,301.6 339.2,290.7 320.5,290.5 297.9,301.4" fill="url(#g104)"/><polygon points="297.9,301.4 320.5,290.5 302.1,292.0 279.6,303.0" fill="url(#g105)"/><polygon points="279.6,303.0 302.1,292.0 283.9,295.4 261.5,306.4" fill="url(#g106)"/><polygon points="261.5,306.4 283.9,295.4 266.2,300.5 243.8,311.6" fill="url(#g107)"/><polygon points="675.1,571.0 697.5,559.1 675.0,525.6 652.6,537.3" fill="#1313fa"/><polygon points="652.6,537.3 675.0,525.6 652.6,494.2 630.2,505.9" fill="#1414fa"/><polygon points="630.2,505.9 652.6,494.2 630.4,465.1 607.9,476.7" fill="url(#g108)"/><polygon points="607.9,476.7 630.4,465.1 608.4,438.1 585.8,449.6" fill="url(#g109)"/><polygon points="585.8,449.6 608.4,438.1 586.5,413.4 564.0,424.8" fill="url(#g110)"/><polygon points="564.0,424.8 586.5,413.4 564.8,390.8 542.3,402.1" fill="url(#g111)"/><polygon points="542.3,402.1 564.8,390.8 543.4,370.3 520.8,381.6" fill="url(#g112)"/><polygon points="520.8,381.6 543.4,370.3 522.2,352.0 499.6,363.3" fill="url(#g113)"/><polygon points="499.6,363.3 522.2,352.0 501.2,335.8 478.6,347.1" fill="url(#g114)"/><polygon points="478.6,347.1 501.2,335.8 480.4,321.7 457.9,333.0" fill="url(#g115)"/><polygon points="457.9,333.0 480.4,321.7 459.9,309.7 437.4,320.9" fill="url(#g116)"/><polygon points="437.4,320.9 459.9,309.7 439.7,299.7 417.2,310.9" fill="url(#g117)"/><polygon points="417.2,310.9 439.7,299.7 419.7,291.7 397.3,302.9" fill="url(#g118)"/><polygon points="397.3,302.9 419.7,291.7 400.1,285.7 377.6,296.9" fill="url(#g119)"/><polygon points="377.6,296.9 400.1,285.7 380.7,281.6 358.3,292.9" fill="url(#g120)"/><polygon points="358.3,292.9 380.7,281.6 361.6,279.4 339.2,290.7" fill="url(#g121)"/><polygon points="339.2,290.7 361.6,279.4 342.8,279.1 320.5,290.5" fill="url(#g122)"/><polygon points="320.5,290.5 342.8,279.1 324.3,280.6 302.1,292.0" fill="url(#g123)"/><polygon points="302.1,292.0 324.3,280.6 306.1,283.9 283.9,295.4" fill="url(#g124)"/><polygon points="283.9,295.4 306.1,283.9 288.2,289.0 266.2,300.5" fill="url(#g125)"/><polygon points="697.5,559.1 719.6,546.7 697.1,513.3 675.0,525.6" fill="#1313fa"/><polygon points="675.0,525.6 697.1,513.3 674.8,482.1 652.6,494.2" fill="url(#g126)"/><polygon points="652.6,494.2 674.8,482.1 652.6,453.0 630.4,465.1" fill="url(#g127)"/><polygon points="630.4,465.1 652.6,453.0 630.6,426.2 608.4,438.1" fill="url(#g128)"/><polygon points="608.4,438.1 630.6,426.2 608.8,401.5 586.5,413.4" fill="url(#g129)"/><polygon points="586.5,413.4 608.8,401.5 587.1,378.9 564.8,390.8" fill="url(#g130)"/><polygon points="564.8,390.8 587.1,378.9 565.7,358.5 543.4,370.3" fill="url(#g131)"/><polygon points="543.4,370.3 565.7,358.5 544.5,340.3 522.2,352.0" fill="url(#g132)"/><polygon points="522.2,352.0 544.5,340.3 523.5,324.1 501.2,335.8" fill="url(#g133)"/><polygon points="501.2,335.8 523.5,324.1 502.7,310.0 480.4,321.7" fill="url(#g134)"/><polygon points="480.4,321.7 502.7,310.0 482.2,298.0 459.9,309.7" fill="url(#g135)"/><polygon points="459.9,309.7 482.2,298.0 462.0,288.0 439.7,299.7" fill="url(#g136)"/><polygon points="439.7,299.7 462.0,288.0 442.0,280.0 419.7,291.7" fill="url(#g137)"/><polygon points="419.7,291.7 442.0,280.0 422.2,273.9 400.1,285.7" fill="url(#g138)"/><polygon points="400.1,285.7 422.2,273.9 402.8,269.8 380.7,281.6" fill="url(#g139)"/><polygon points="380.7,281.6 402.8,269.8 383.7,267.6 361.6,279.4" fill="url(#g140)"/><polygon points="361.6,279.4 383.7,267.6 364.8,267.2 342.8,279.1" fill="url(#g141)"/><polygon points="342.8,279.1 364.8,267.2 346.2,268.7 324.3,280.6" fill="url(#g142)"/><polygon points="324.3,280.6 346.2,268.7 328.0,272.0 306.1,283.9" fill="url(#g143)"/><polygon points="306.1,283.9 328.0,272.0 310.1,276.9 288.2,289.0" fill="url(#g144)"/><polygon points="719.6,546.7 741.4,533.9 719.0,500.6 697.1,513.3" fill="#1313fa"/><polygon points="697.1,513.3 719.0,500.6 696.7,469.4 674.8,482.1" fill="url(#g145)"/><polygon points="674.8,482.1 696.7,469.4 674.6,440.5 652.6,453.0" fill="url(#g146)"/><polygon points="652.6,453.0 674.6,440.5 652.6,413.7 630.6,426.2" fill="url(#g147)"/><polygon points="630.6,426.2 652.6,413.7 630.8,389.0 608.8,401.5" fill="url(#g148)"/><polygon points="608.8,401.5 630.8,389.0 609.2,366.6 587.1,378.9" fill="url(#g149)"/><polygon points="587.1,378.9 609.2,366.6 587.8,346.2 565.7,358.5" fill="url(#g150)"/><polygon points="565.7,358.5 587.8,346.2 566.5,328.0 544.5,340.3" fill="url(#g151)"/><polygon points="544.5,340.3 566.5,328.0 545.5,311.8 523.5,324.1" fill="url(#g152)"/><polygon points="523.5,324.1 545.5,311.8 524.8,297.8 502.7,310.0" fill="url(#g153)"/><polygon points="502.7,310.0 524.8,297.8 504.2,285.8 482.2,298.0" fill="url(#g154)"/><polygon points="482.2,298.0 504.2,285.8 484.0,275.8 462.0,288.0" fill="url(#g155)"/><polygon points="462.0,288.0 484.0,275.8 463.9,267.7 442.0,280.0" fill="url(#g156)"/><polygon points="442.0,280.0 463.9,267.7 444.2,261.7 422.2,273.9" fill="url(#g157)"/><polygon points="422.2,273.9 444.2,261.7 424.7,257.5 402.8,269.8" fill="url(#g158)"/><polygon points="402.8,269.8 424.7,257.5 405.5,255.3 383.7,267.6" fill="url(#g159)"/><polygon points="383.7,267.6 405.5,255.3 386.6,254.9 364.8,267.2" fill="url(#g160)"/><polygon points="364.8,267.2 386.6,254.9 368.0,256.3 346.2,268.7" fill="url(#g161)"/><polygon points="346.2,268.7 368.0,256.3 349.7,259.5 328.0,272.0" fill="url(#g162)"/><polygon points="328.0,272.0 349.7,259.5 331.7,264.5 310.1,276.9" fill="url(#g163)"/><polygon points="741.4,533.9 763.0,520.5 740.6,487.3 719.0,500.6" fill="#1313fa"/><polygon points="719.0,500.6 740.6,487.3 718.4,456.3 696.7,469.4" fill="url(#g164)"/><polygon points="696.7,469.4 718.4,456.3 696.3,427.4 674.6,440.5" fill="url(#g165)"/><polygon points="674.6,440.5 696.3,427.4 674.4,400.7 652.6,413.7" fill="url(#g166)"/><polygon points="652.6,413.7 674.4,400.7 652.6,376.1 630.8,389.0" fill="url(#g167)"/><polygon points="630.8,389.0 652.6,376.1 631.0,353.7 609.2,366.6" fill="url(#g168)"/><polygon points="609.2,366.6 631.0,353.7 609.6,333.4 587.8,346.2" fill="url(#g169)"/><polygon points="587.8,346.2 609.6,333.4 588.4,315.2 566.5,328.0" fill="url(#g170)"/><polygon points="566.5,328.0 588.4,315.2 567.4,299.1 545.5,311.8" fill="url(#g171)"/><polygon points="545.5,311.8 567.4,299.1 546.6,285.1 524.8,297.8" fill="url(#g172)"/><polygon points="524.8,297.8 546.6,285.1 526.0,273.1 504.2,285.8" fill="url(#g173)"/><polygon points="504.2,285.8 526.0,273.1 505.7,263.1 484.0,275.8" fill="url(#g174)"/><polygon points="484.0,275.8 505.7,263.1 485.7,255.0 463.9,267.7" fill="url(#g175)"/><polygon points="463.9,267.7 485.7,255.0 465.9,249.0 444.2,261.7" fill="url(#g176)"/><polygon points="444.2,261.7 465.9,249.0 446.4,244.8 424.7,257.5" fill="url(#g177)"/><polygon points="424.7,257.5 446.4,244.8 427.1,242.5 405.5,255.3" fill="url(#g178)"/><polygon points="405.5,255.3 427.1,242.5 408.2,242.1 386.6,254.9" fill="url(#g179)"/><polygon points="386.6,254.9 408.2,242.1 389.5,243.5 368.0,256.3" fill="url(#g180)"/><polygon points="368.0,256.3 389.5,243.5 371.1,246.6 349.7,259.5" fill="url(#g181)"/><polygon points="349.7,259.5 371.1,246.6 353.0,251.5 331.7,264.5" fill="url(#g182)"/><polygon points="763.0,520.5 784.3,506.7 762.0,473.6 740.6,487.3" fill="#1313fa"/><polygon points="740.6,487.3 762.0,473.6 739.9,442.6 718.4,456.3" fill="url(#g183)"/><polygon points="718.4,456.3 739.9,442.6 717.8,413.9 696.3,427.4" fill="url(#g184)"/><polygon points="696.3,427.4 717.8,413.9 695.9,387.2 674.4,400.7" fill="url(#g185)"/><polygon points="674.4,400.7 695.9,387.2 674.1,362.7 652.6,376.1" fill="url(#g186)"/><polygon points="652.6,376.1 674.1,362.7 652.6,340.4 631.0,353.7" fill="url(#g187)"/><polygon points="631.0,353.7 652.6,340.4 631.2,320.1 609.6,333.4" fill="url(#g188)"/><polygon points="609.6,333.4 631.2,320.1 610.0,302.0 588.4,315.2" fill="url(#g189)"/><polygon points="588.4,315.2 610.0,302.0 588.9,285.9 567.4,299.1" fill="url(#g190)"/><polygon points="567.4,299.1 588.9,285.9 568.2,271.9 546.6,285.1" fill="url(#g191)"/><polygon points="546.6,285.1 568.2,271.9 547.6,259.9 526.0,273.1" fill="url(#g192)"/><polygon points="526.0,273.1 547.6,259.9 527.3,249.9 505.7,263.1" fill="url(#g193)"/><polygon points="505.7,263.1 527.3,249.9 507.2,241.8 485.7,255.0" fill="url(#g194)"/><polygon points="485.7,255.0 507.2,241.8 487.4,235.8 465.9,249.0" fill="url(#g195)"/><polygon points="465.9,249.0 487.4,235.8 467.8,231.6 446.4,244.8" fill="url(#g196)"/><polygon points="446.4,244.8 467.8,231.6 448.5,229.3 427.1,242.5" fill="url(#g197)"/><polygon points="427.1,242.5 448.5,229.3 429.5,228.8 408.2,242.1" fill="url(#g198)"/><polygon points="408.2,242.1 429.5,228.8 410.8,230.2 389.5,243.5" fill="url(#g199)"/><polygon points="389.5,243.5 410.8,230.2 392.3,233.3 371.1,246.6" fill="url(#g200)"/><polygon points="371.1,246.6 392.3,233.3 374.2,238.1 353.0,251.5" fill="url(#g201)"/><polygon points="784.3,506.7 805.5,492.4 783.2,459.4 762.0,473.6" fill="url(#g202)"/><polygon points="762.0,473.6 783.2,459.4 761.1,428.5 739.9,442.6" fill="url(#g203)"/><polygon points="739.9,442.6 761.1,428.5 739.1,399.8 717.8,413.9" fill="url(#g204)"/><polygon points="717.8,413.9 739.1,399.8 717.2,373.3 695.9,387.2" fill="url(#g205)"/><polygon points="695.9,387.2 717.2,373.3 695.5,348.9 674.1,362.7" fill="url(#g206)"/><polygon points="674.1,362.7 695.5,348.9 673.9,326.6 652.6,340.4" fill="url(#g207)"/><polygon points="652.6,340.4 673.9,326.6 652.5,306.4 631.2,320.1" fill="url(#g208)"/><polygon points="631.2,320.1 652.5,306.4 631.3,288.2 610.0,302.0" fill="url(#g209)"/><polygon points="610.0,302.0 631.3,288.2 610.3,272.2 588.9,285.9" fill="url(#g210)"/><polygon points="588.9,285.9 610.3,272.2 589.5,258.2 568.2,271.9" fill="url(#g211)"/><polygon points="568.2,271.9 589.5,258.2 568.9,246.2 547.6,259.9" fill="url(#g212)"/><polygon points="547.6,259.9 568.9,246.2 548.6,236.2 527.3,249.9" fill="url(#g213)"/><polygon points="527.3,249.9 548.6,236.2 528.5,228.2 507.2,241.8" fill="url(#g214)"/><polygon points="507.2,241.8 528.5,228.2 508.6,222.1 487.4,235.8" fill="url(#g215)"/><polygon points="487.4,235.8 508.6,222.1 489.0,217.9 467.8,231.6" fill="url(#g216)"/><polygon points="467.8,231.6 489.0,217.9 469.7,215.6 448.5,229.3" fill="url(#g217)"/><polygon points="448.5,229.3 469.7,215.6 450.6,215.1 429.5,228.8" fill="url(#g218)"/><polygon points="429.5,228.8 450.6,215.1 431.8,216.4 410.8,230.2" fill="url(#g219)"/><polygon points="410.8,230.2 431.8,216.4 413.3,219.5 392.3,233.3" fill="url(#g220)"/><polygon points="392.3,233.3 413.3,219.5 395.1,224.3 374.2,238.1" fill="url(#g221)"/><polygon points="805.5,492.4 826.4,477.6 804.2,444.7 783.2,459.4" fill="url(#g222)"/><polygon points="783.2,459.4 804.2,444.7 782.1,414.0 761.1,428.5" fill="url(#g223)"/><polygon points="761.1,428.5 782.1,414.0 760.1,385.4 739.1,399.8" fill="url(#g224)"/><polygon points="739.1,399.8 760.1,385.4 738.3,358.9 717.2,373.3" fill="url(#g225)"/><polygon points="717.2,373.3 738.3,358.9 716.6,334.5 695.5,348.9" fill="url(#g226)"/><polygon points="695.5,348.9 716.6,334.5 695.0,312.3 673.9,326.6" fill="url(#g227)"/><polygon points="673.9,326.6 695.0,312.3 673.7,292.1 652.5,306.4" fill="url(#g228)"/><polygon points="652.5,306.4 673.7,292.1 652.5,274.0 631.3,288.2" fill="url(#g229)"/><polygon points="631.3,288.2 652.5,274.0 631.4,258.0 610.3,272.2" fill="url(#g230)"/><polygon points="610.3,272.2 631.4,258.0 610.6,244.0 589.5,258.2" fill="url(#g231)"/><polygon points="589.5,258.2 610.6,244.0 590.1,232.0 568.9,246.2" fill="url(#g232)"/><polygon points="568.9,246.2 590.1,232.0 569.7,222.1 548.6,236.2" fill="url(#g233)"/><polygon points="548.6,236.2 569.7,222.1 549.6,214.0 528.5,228.2" fill="url(#g234)"/><polygon points="528.5,228.2 549.6,214.0 529.7,207.9 508.6,222.1" fill="url(#g235)"/><polygon points="508.6,222.1 529.7,207.9 510.0,203.7 489.0,217.9" fill="url(#g236)"/><polygon points="489.0,217.9 510.0,203.7 490.6,201.4 469.7,215.6" fill="url(#g237)"/><polygon points="469.7,215.6 490.6,201.4 471.5,200.9 450.6,215.1" fill="url(#g238)"/><polygon points="450.6,215.1 471.5,200.9 452.7,202.2 431.8,216.4" fill="url(#g239)"/><polygon points="431.8,216.4 452.7,202.2 434.1,205.2 413.3,219.5" fill="url(#g240)"/><polygon points="413.3,219.5 434.1,205.2 415.8,210.0 395.1,224.3" fill="url(#g241)"/><polygon points="826.4,477.6 847.1,462.3 825.0,429.6 804.2,444.7" fill="url(#g242)"/><polygon points="804.2,444.7 825.0,429.6 802.9,398.9 782.1,414.0" fill="url(#g243)"/><polygon points="782.1,414.0 802.9,398.9 781.0,370.4 760.1,385.4" fill="url(#g244)"/><polygon points="760.1,385.4 781.0,370.4 759.2,344.0 738.3,358.9" fill="url(#g245)"/><polygon points="738.3,358.9 759.2,344.0 737.5,319.7 716.6,334.5" fill="url(#g246)"/><polygon points="716.6,334.5 737.5,319.7 715.9,297.5 695.0,312.3" fill="url(#g247)"/><polygon points="695.0,312.3 715.9,297.5 694.6,277.4 673.7,292.1" fill="url(#g248)"/><polygon points="673.7,292.1 694.6,277.4 673.4,259.3 652.5,274.0" fill="url(#g249)"/><polygon points="652.5,274.0 673.4,259.3 652.4,243.4 631.4,258.0" fill="url(#g250)"/><polygon points="631.4,258.0 652.4,243.4 631.6,229.4 610.6,244.0" fill="url(#g251)"/><polygon points="610.6,244.0 631.6,229.4 611.0,217.4 590.1,232.0" fill="url(#g252)"/><polygon points="590.1,232.0 611.0,217.4 590.6,207.5 569.7,222.1" fill="url(#g253)"/><polygon points="569.7,222.1 590.6,207.5 570.4,199.4 549.6,214.0" fill="url(#g254)"/><polygon points="549.6,214.0 570.4,199.4 550.5,193.3 529.7,207.9" fill="url(#g255)"/><polygon points="529.7,207.9 550.5,193.3 530.8,189.1 510.0,203.7" fill="url(#g256)"/><polygon points="510.0,203.7 530.8,189.1 511.4,186.8 490.6,201.4" fill="url(#g257)"/><polygon points="490.6,201.4 511.4,186.8 492.2,186.2 471.5,200.9" fill="url(#g258)"/><polygon points="471.5,200.9 492.2,186.2 473.3,187.5 452.7,202.2" fill="url(#g259)"/><polygon points="452.7,202.2 473.3,187.5 454.7,190.5 434.1,205.2" fill="url(#g260)"/><polygon points="434.1,205.2 454.7,190.5 436.3,195.2 415.8,210.0" fill="url(#g261)"/><polygon points="847.1,462.3 867.6,446.6 845.5,414.0 825.0,429.6" fill="url(#g262)"/><polygon points="825.0,429.6 845.5,414.0 823.5,383.4 802.9,398.9" fill="url(#g263)"/><polygon points="802.9,398.9 823.5,383.4 801.6,355.0 781.0,370.4" fill="url(#g264)"/><polygon points="781.0,370.4 801.6,355.0 779.8,328.6 759.2,344.0" fill="url(#g265)"/><polygon points="759.2,344.0 779.8,328.6 758.2,304.4 737.5,319.7" fill="url(#g266)"/><polygon points="737.5,319.7 758.2,304.4 736.7,282.3 715.9,297.5" fill="url(#g267)"/><polygon points="715.9,297.5 736.7,282.3 715.3,262.2 694.6,277.4" fill="url(#g268)"/><polygon points="694.6,277.4 715.3,262.2 694.1,244.2 673.4,259.3" fill="url(#g269)"/><polygon points="673.4,259.3 694.1,244.2 673.1,228.2 652.4,243.4" fill="url(#g270)"/><polygon points="652.4,243.4 673.1,228.2 652.3,214.3 631.6,229.4" fill="url(#g271)"/><polygon points="631.6,229.4 652.3,214.3 631.7,202.4 611.0,217.4" fill="url(#g272)"/><polygon points="611.0,217.4 631.7,202.4 611.3,192.4 590.6,207.5" fill="url(#g273)"/><polygon points="590.6,207.5 611.3,192.4 591.1,184.4 570.4,199.4" fill="url(#g274)"/><polygon points="570.4,199.4 591.1,184.4 571.1,178.3 550.5,193.3" fill="url(#g275)"/><polygon points="550.5,193.3 571.1,178.3 551.4,174.0 530.8,189.1" fill="url(#g276)"/><polygon points="530.8,189.1 551.4,174.0 531.9,171.7 511.4,186.8" fill="url(#g277)"/><polygon points="511.4,186.8 531.9,171.7 512.7,171.1 492.2,186.2" fill="url(#g278)"/><polygon points="492.2,186.2 512.7,171.1 493.8,172.3 473.3,187.5" fill="url(#g279)"/><polygon points="473.3,187.5 493.8,172.3 475.1,175.3 454.7,190.5" fill="url(#g280)"/><polygon points="454.7,190.5 475.1,175.3 456.7,180.0 436.3,195.2" fill="url(#g281)"/><polygon points="867.6,446.6 888.0,430.5 865.9,397.9 845.5,414.0" fill="url(#g282)"/><polygon points="845.5,414.0 865.9,397.9 843.9,367.4 823.5,383.4" fill="url(#g283)"/><polygon points="823.5,383.4 843.9,367.4 822.1,339.1 801.6,355.0" fill="url(#g284)"/><polygon points="801.6,355.0 822.1,339.1 800.3,312.8 779.8,328.6" fill="url(#g285)"/><polygon points="779.8,328.6 800.3,312.8 778.7,288.6 758.2,304.4" fill="url(#g286)"/><polygon points="758.2,304.4 778.7,288.6 757.2,266.5 736.7,282.3" fill="url(#g287)"/><polygon points="736.7,282.3 757.2,266.5 735.8,246.5 715.3,262.2" fill="url(#g288)"/><polygon points="715.3,262.2 735.8,246.5 714.7,228.6 694.1,244.2" fill="url(#g289)"/><polygon points="694.1,244.2 714.7,228.6 693.7,212.6 673.1,228.2" fill="url(#g290)"/><polygon points="673.1,228.2 693.7,212.6 672.8,198.7 652.3,214.3" fill="url(#g291)"/><polygon points="652.3,214.3 672.8,198.7 652.2,186.8 631.7,202.4" fill="url(#g292)"/><polygon points="631.7,202.4 652.2,186.8 631.8,176.8 611.3,192.4" fill="url(#g293)"/><polygon points="611.3,192.4 631.8,176.8 611.6,168.8 591.1,184.4" fill="url(#g294)"/><polygon points="591.1,184.4 611.6,168.8 591.6,162.7 571.1,178.3" fill="url(#g295)"/><polygon points="571.1,178.3 591.6,162.7 571.8,158.5 551.4,174.0" fill="url(#g296)"/><polygon points="551.4,174.0 571.8,158.5 552.3,156.1 531.9,171.7" fill="url(#g297)"/><polygon points="531.9,171.7 552.3,156.1 533.0,155.5 512.7,171.1" fill="url(#g298)"/><polygon points="512.7,171.1 533.0,155.5 514.0,156.8 493.8,172.3" fill="url(#g299)"/><polygon points="493.8,172.3 514.0,156.8 495.3,159.7 475.1,175.3" fill="url(#g300)"/><polygon points="475.1,175.3 495.3,159.7 476.8,164.4 456.7,180.0" fill="url(#g301)"/><polygon points="888.0,430.5 908.1,413.9 886.1,381.4 865.9,397.9" fill="url(#g302)"/><polygon points="865.9,397.9 886.1,381.4 864.2,351.0 843.9,367.4" fill="url(#g303)"/><polygon points="843.9,367.4 864.2,351.0 842.3,322.7 822.1,339.1" fill="url(#g304)"/><polygon points="822.1,339.1 842.3,322.7 820.6,296.5 800.3,312.8" fill="url(#g305)"/><polygon points="800.3,312.8 820.6,296.5 799.0,272.4 778.7,288.6" fill="url(#g306)"/><polygon points="778.7,288.6 799.0,272.4 777.5,250.4 757.2,266.5" fill="url(#g307)"/><polygon points="757.2,266.5 777.5,250.4 756.2,230.4 735.8,246.5" fill="url(#g308)"/><polygon points="735.8,246.5 756.2,230.4 735.0,212.5 714.7,228.6" fill="url(#g309)"/><polygon points="714.7,228.6 735.0,212.5 714.0,196.6 693.7,212.6" fill="url(#g310)"/><polygon points="693.7,212.6 714.0,196.6 693.2,182.7 672.8,198.7" fill="url(#g311)"/><polygon points="672.8,198.7 693.2,182.7 672.5,170.8 652.2,186.8" fill="url(#g312)"/><polygon points="652.2,186.8 672.5,170.8 652.1,160.9 631.8,176.8" fill="url(#g313)"/><polygon points="631.8,176.8 652.1,160.9 631.9,152.8 611.6,168.8" fill="url(#g314)"/><polygon points="611.6,168.8 631.9,152.8 611.8,146.7 591.6,162.7" fill="url(#g315)"/><polygon points="591.6,162.7 611.8,146.7 592.0,142.5 571.8,158.5" fill="url(#g316)"/><polygon points="571.8,158.5 592.0,142.5 572.5,140.1 552.3,156.1" fill="url(#g317)"/><polygon points="552.3,156.1 572.5,140.1 553.2,139.5 533.0,155.5" fill="url(#g318)"/><polygon points="533.0,155.5 553.2,139.5 534.1,140.7 514.0,156.8" fill="url(#g319)"/><polygon points="514.0,156.8 534.1,140.7 515.3,143.7 495.3,159.7" fill="url(#g320)"/><polygon points="495.3,159.7 515.3,143.7 496.8,148.3 476.8,164.4" fill="url(#g321)"/><polygon points="908.1,413.9 928.1,396.8 906.1,364.4 886.1,381.4" fill="url(#g322)"/><polygon points="886.1,381.4 906.1,364.4 884.2,334.1 864.2,351.0" fill="url(#g323)"/><polygon points="864.2,351.0 884.2,334.1 862.4,305.9 842.3,322.7" fill="url(#g324)"/><polygon points="842.3,322.7 862.4,305.9 840.7,279.8 820.6,296.5" fill="url(#g325)"/><polygon points="820.6,296.5 840.7,279.8 819.2,255.7 799.0,272.4" fill="url(#g326)"/><polygon points="799.0,272.4 819.2,255.7 797.7,233.8 777.5,250.4" fill="url(#g327)"/><polygon points="777.5,250.4 797.7,233.8 776.4,213.8 756.2,230.4" fill="url(#g328)"/><polygon points="756.2,230.4 776.4,213.8 755.2,195.9 735.0,212.5" fill="url(#g329)"/><polygon points="735.0,212.5 755.2,195.9 734.2,180.1 714.0,196.6" fill="url(#g330)"/><polygon points="714.0,196.6 734.2,180.1 713.3,166.2 693.2,182.7" fill="url(#g331)"/><polygon points="693.2,182.7 713.3,166.2 692.7,154.3 672.5,170.8" fill="url(#g332)"/><polygon points="672.5,170.8 692.7,154.3 672.2,144.4 652.1,160.9" fill="url(#g333)"/><polygon points="652.1,160.9 672.2,144.4 652.0,136.4 631.9,152.8" fill="url(#g334)"/><polygon points="631.9,152.8 652.0,136.4 631.9,130.3 611.8,146.7" fill="url(#g335)"/><polygon points="611.8,146.7 631.9,130.3 612.1,126.1 592.0,142.5" fill="url(#g336)"/><polygon points="592.0,142.5 612.1,126.1 592.5,123.7 572.5,140.1" fill="url(#g337)"/><polygon points="572.5,140.1 592.5,123.7 573.1,123.1 553.2,139.5" fill="url(#g338)"/><polygon points="553.2,139.5 573.1,123.1 554.0,124.2 534.1,140.7" fill="url(#g339)"/><polygon points="534.1,140.7 554.0,124.2 535.2,127.2 515.3,143.7" fill="url(#g340)"/><polygon points="515.3,143.7 535.2,127.2 516.6,131.8 496.8,148.3" fill="url(#g341)"/><polygon points="928.1,396.8 947.9,379.3 926.0,347.0 906.1,364.4" fill="url(#g342)"/><polygon points="906.1,364.4 926.0,347.0 904.1,316.8 884.2,334.1" fill="url(#g343)"/><polygon points="884.2,334.1 904.1,316.8 882.4,288.6 862.4,305.9" fill="url(#g344)"/><polygon points="862.4,305.9 882.4,288.6 860.7,262.6 840.7,279.8" fill="url(#g345)"/><polygon points="840.7,279.8 860.7,262.6 839.1,238.6 819.2,255.7" fill="url(#g346)"/><polygon points="819.2,255.7 839.1,238.6 817.7,216.7 797.7,233.8" fill="url(#g347)"/><polygon points="797.7,233.8 817.7,216.7 796.4,196.8 776.4,213.8" fill="url(#g348)"/><polygon points="776.4,213.8 796.4,196.8 775.2,178.9 755.2,195.9" fill="url(#g349)"/><polygon points="755.2,195.9 775.2,178.9 754.2,163.1 734.2,180.1" fill="url(#g350)"/><polygon points="734.2,180.1 754.2,163.1 733.3,149.3 713.3,166.2" fill="url(#g351)"/><polygon points="713.3,166.2 733.3,149.3 712.7,137.4 692.7,154.3" fill="url(#g352)"/><polygon points="692.7,154.3 712.7,137.4 692.2,127.5 672.2,144.4" fill="#f66266"/><polygon points="672.2,144.4 692.2,127.5 671.9,119.5 652.0,136.4" fill="#f66266"/><polygon points="652.0,136.4 671.9,119.5 651.8,113.4 631.9,130.3" fill="#f66266"/><polygon points="631.9,130.3 651.8,113.4 632.0,109.2 612.1,126.1" fill="#f66266"/><polygon points="612.1,126.1 632.0,109.2 612.3,106.8 592.5,123.7" fill="#f66266"/><polygon points="592.5,123.7 612.3,106.8 592.9,106.2 573.1,123.1" fill="url(#g353)"/><polygon points="573.1,123.1 592.9,106.2 573.8,107.3 554.0,124.2" fill="url(#g354)"/><polygon points="554.0,124.2 573.8,107.3 554.9,110.2 535.2,127.2" fill="url(#g355)"/><polygon points="535.2,127.2 554.9,110.2 536.2,114.8 516.6,131.8" fill="url(#g356)"/><polygon points="947.9,379.3 967.5,361.3 945.7,329.1 926.0,347.0" fill="url(#g357)"/><polygon points="926.0,347.0 945.7,329.1 923.8,299.0 904.1,316.8" fill="url(#g358)"/><polygon points="904.1,316.8 923.8,299.0 902.1,270.9 882.4,288.6" fill="url(#g359)"/><polygon points="882.4,288.6 902.1,270.9 880.5,244.9 860.7,262.6" fill="url(#g360)"/><polygon points="860.7,262.6 880.5,244.9 858.9,221.0 839.1,238.6" fill="url(#g361)"/><polygon points="839.1,238.6 858.9,221.0 837.5,199.1 817.7,216.7" fill="url(#g362)"/><polygon points="817.7,216.7 837.5,199.1 816.2,179.3 796.4,196.8" fill="url(#g363)"/><polygon points="796.4,196.8 816.2,179.3 795.0,161.5 775.2,178.9" fill="url(#g364)"/><polygon points="775.2,178.9 795.0,161.5 774.0,145.7 754.2,163.1" fill="url(#g365)"/><polygon points="754.2,163.1 774.0,145.7 753.2,131.9 733.3,149.3" fill="#f66266"/><polygon points="733.3,149.3 753.2,131.9 732.5,120.1 712.7,137.4" fill="#f66266"/><polygon points="712.7,137.4 732.5,120.1 712.0,110.2 692.2,127.5" fill="#f66266"/><polygon points="692.2,127.5 712.0,110.2 691.7,102.2 671.9,119.5" fill="#f66266"/><polygon points="671.9,119.5 691.7,102.2 671.6,96.1 651.8,113.4" fill="#f66266"/><polygon points="651.8,113.4 671.6,96.1 651.7,91.8 632.0,109.2" fill="#f66266"/><polygon points="632.0,109.2 651.7,91.8 632.0,89.4 612.3,106.8" fill="#f66266"/><polygon points="612.3,106.8 632.0,89.4 612.6,88.8 592.9,106.2" fill="#f66266"/><polygon points="592.9,106.2 612.6,88.8 593.4,90.0 573.8,107.3" fill="#f66266"/><polygon points="573.8,107.3 593.4,90.0 574.4,92.9 554.9,110.2" fill="url(#g366)"/><polygon points="554.9,110.2 574.4,92.9 555.7,97.4 536.2,114.8" fill="url(#g367)"/></g><g fill="none" stroke="#000" opacity="0.68" stroke-width="1.5" stroke-linejoin="round"><polyline points="535.0,631.5 512.1,597.1 489.4,564.9 466.9,535.1 444.6,507.5 422.6,482.3 400.8,459.3 379.3,438.5 358.1,419.9 337.1,403.6 316.5,389.4 296.1,377.4 276.1,367.5 256.4,359.6 237.0,353.8 218.0,350.0 199.3,348.1 181.0,348.2 163.0,350.2 145.3,354.0 128.1,359.5"/><polyline points="535.0,631.5 559.2,622.8 583.0,613.5 606.5,603.6 629.6,593.3 652.5,582.4 675.1,571.0 697.5,559.1 719.6,546.7 741.4,533.9 763.0,520.5 784.3,506.7 805.5,492.4 826.4,477.6 847.1,462.3 867.6,446.6 888.0,430.5 908.1,413.9 928.1,396.8 947.9,379.3 967.5,361.3"/><polyline points="559.2,622.8 536.3,588.5 513.6,556.4 491.2,526.7 469.0,499.2 446.9,474.0 425.2,451.1 403.7,430.4 382.4,411.8 361.5,395.5 340.8,381.3 320.5,369.3 300.4,359.4 280.6,351.5 261.2,345.6 242.1,341.8 223.4,339.9 205.0,339.9 186.9,341.7 169.2,345.5 151.8,350.9"/><polyline points="512.1,597.1 536.3,588.5 560.2,579.3 583.7,569.6 607.0,559.4 629.9,548.6 652.6,537.3 675.0,525.6 697.1,513.3 719.0,500.6 740.6,487.3 762.0,473.6 783.2,459.4 804.2,444.7 825.0,429.6 845.5,414.0 865.9,397.9 886.1,381.4 906.1,364.4 926.0,347.0 945.7,329.1"/><polyline points="583.0,613.5 560.2,579.3 537.6,547.4 515.1,517.8 492.9,490.4 471.0,465.3 449.2,442.4 427.7,421.7 406.5,403.2 385.5,386.9 364.8,372.7 344.4,360.7 324.3,350.7 304.6,342.8 285.1,336.9 265.9,333.0 247.1,331.1 228.6,331.0 210.5,332.8 192.7,336.4 175.2,341.8"/><polyline points="489.4,564.9 513.6,556.4 537.6,547.4 561.2,537.8 584.4,527.7 607.4,517.0 630.2,505.9 652.6,494.2 674.8,482.1 696.7,469.4 718.4,456.3 739.9,442.6 761.1,428.5 782.1,414.0 802.9,398.9 823.5,383.4 843.9,367.4 864.2,351.0 884.2,334.1 904.1,316.8 923.8,299.0"/><polyline points="606.5,603.6 583.7,569.6 561.2,537.8 538.8,508.3 516.6,481.0 494.7,455.9 472.9,433.1 451.4,412.5 430.2,394.0 409.2,377.7 388.5,363.6 368.1,351.5 348.0,341.5 328.2,333.6 308.7,327.7 289.5,323.8 270.6,321.7 252.0,321.6 233.8,323.4 215.9,326.9 198.4,332.2"/><polyline points="466.9,535.1 491.2,526.7 515.1,517.8 538.8,508.3 562.1,498.2 585.2,487.7 607.9,476.7 630.4,465.1 652.6,453.0 674.6,440.5 696.3,427.4 717.8,413.9 739.1,399.8 760.1,385.4 781.0,370.4 801.6,355.0 822.1,339.1 842.3,322.7 862.4,305.9 882.4,288.6 902.1,270.9"/><polyline points="629.6,593.3 607.0,559.4 584.4,527.7 562.1,498.2 540.0,471.0 518.0,446.1 496.3,423.3 474.9,402.7 453.6,384.3 432.6,368.0 411.9,353.9 391.5,341.8 371.3,331.9 351.5,323.9 331.9,318.0 312.7,314.0 293.7,311.9 275.1,311.7 256.8,313.4 238.9,316.9 221.2,322.1"/><polyline points="444.6,507.5 469.0,499.2 492.9,490.4 516.6,481.0 540.0,471.0 563.0,460.6 585.8,449.6 608.4,438.1 630.6,426.2 652.6,413.7 674.4,400.7 695.9,387.2 717.2,373.3 738.3,358.9 759.2,344.0 779.8,328.6 800.3,312.8 820.6,296.5 840.7,279.8 860.7,262.6 880.5,244.9"/><polyline points="652.5,582.4 629.9,548.6 607.4,517.0 585.2,487.7 563.0,460.6 541.1,435.7 519.5,413.0 498.0,392.4 476.8,374.1 455.8,357.8 435.0,343.7 414.6,331.6 394.4,321.6 374.5,313.7 354.9,307.7 335.6,303.7 316.6,301.6 297.9,301.4 279.6,303.0 261.5,306.4 243.8,311.6"/><polyline points="422.6,482.3 446.9,474.0 471.0,465.3 494.7,455.9 518.0,446.1 541.1,435.7 564.0,424.8 586.5,413.4 608.8,401.5 630.8,389.0 652.6,376.1 674.1,362.7 695.5,348.9 716.6,334.5 737.5,319.7 758.2,304.4 778.7,288.6 799.0,272.4 819.2,255.7 839.1,238.6 858.9,221.0"/><polyline points="675.1,571.0 652.6,537.3 630.2,505.9 607.9,476.7 585.8,449.6 564.0,424.8 542.3,402.1 520.8,381.6 499.6,363.3 478.6,347.1 457.9,333.0 437.4,320.9 417.2,310.9 397.3,302.9 377.6,296.9 358.3,292.9 339.2,290.7 320.5,290.5 302.1,292.0 283.9,295.4 266.2,300.5"/><polyline points="400.8,459.3 425.2,451.1 449.2,442.4 472.9,433.1 496.3,423.3 519.5,413.0 542.3,402.1 564.8,390.8 587.1,378.9 609.2,366.6 631.0,353.7 652.6,340.4 673.9,326.6 695.0,312.3 715.9,297.5 736.7,282.3 757.2,266.5 777.5,250.4 797.7,233.8 817.7,216.7 837.5,199.1"/><polyline points="697.5,559.1 675.0,525.6 652.6,494.2 630.4,465.1 608.4,438.1 586.5,413.4 564.8,390.8 543.4,370.3 522.2,352.0 501.2,335.8 480.4,321.7 459.9,309.7 439.7,299.7 419.7,291.7 400.1,285.7 380.7,281.6 361.6,279.4 342.8,279.1 324.3,280.6 306.1,283.9 288.2,289.0"/><polyline points="379.3,438.5 403.7,430.4 427.7,421.7 451.4,412.5 474.9,402.7 498.0,392.4 520.8,381.6 543.4,370.3 565.7,358.5 587.8,346.2 609.6,333.4 631.2,320.1 652.5,306.4 673.7,292.1 694.6,277.4 715.3,262.2 735.8,246.5 756.2,230.4 776.4,213.8 796.4,196.8 816.2,179.3"/><polyline points="719.6,546.7 697.1,513.3 674.8,482.1 652.6,453.0 630.6,426.2 608.8,401.5 587.1,378.9 565.7,358.5 544.5,340.3 523.5,324.1 502.7,310.0 482.2,298.0 462.0,288.0 442.0,280.0 422.2,273.9 402.8,269.8 383.7,267.6 364.8,267.2 346.2,268.7 328.0,272.0 310.1,276.9"/><polyline points="358.1,419.9 382.4,411.8 406.5,403.2 430.2,394.0 453.6,384.3 476.8,374.1 499.6,363.3 522.2,352.0 544.5,340.3 566.5,328.0 588.4,315.2 610.0,302.0 631.3,288.2 652.5,274.0 673.4,259.3 694.1,244.2 714.7,228.6 735.0,212.5 755.2,195.9 775.2,178.9 795.0,161.5"/><polyline points="741.4,533.9 719.0,500.6 696.7,469.4 674.6,440.5 652.6,413.7 630.8,389.0 609.2,366.6 587.8,346.2 566.5,328.0 545.5,311.8 524.8,297.8 504.2,285.8 484.0,275.8 463.9,267.7 444.2,261.7 424.7,257.5 405.5,255.3 386.6,254.9 368.0,256.3 349.7,259.5 331.7,264.5"/><polyline points="337.1,403.6 361.5,395.5 385.5,386.9 409.2,377.7 432.6,368.0 455.8,357.8 478.6,347.1 501.2,335.8 523.5,324.1 545.5,311.8 567.4,299.1 588.9,285.9 610.3,272.2 631.4,258.0 652.4,243.4 673.1,228.2 693.7,212.6 714.0,196.6 734.2,180.1 754.2,163.1 774.0,145.7"/><polyline points="763.0,520.5 740.6,487.3 718.4,456.3 696.3,427.4 674.4,400.7 652.6,376.1 631.0,353.7 609.6,333.4 588.4,315.2 567.4,299.1 546.6,285.1 526.0,273.1 505.7,263.1 485.7,255.0 465.9,249.0 446.4,244.8 427.1,242.5 408.2,242.1 389.5,243.5 371.1,246.6 353.0,251.5"/><polyline points="316.5,389.4 340.8,381.3 364.8,372.7 388.5,363.6 411.9,353.9 435.0,343.7 457.9,333.0 480.4,321.7 502.7,310.0 524.8,297.8 546.6,285.1 568.2,271.9 589.5,258.2 610.6,244.0 631.6,229.4 652.3,214.3 672.8,198.7 693.2,182.7 713.3,166.2 733.3,149.3 753.2,131.9"/><polyline points="784.3,506.7 762.0,473.6 739.9,442.6 717.8,413.9 695.9,387.2 674.1,362.7 652.6,340.4 631.2,320.1 610.0,302.0 588.9,285.9 568.2,271.9 547.6,259.9 527.3,249.9 507.2,241.8 487.4,235.8 467.8,231.6 448.5,229.3 429.5,228.8 410.8,230.2 392.3,233.3 374.2,238.1"/><polyline points="296.1,377.4 320.5,369.3 344.4,360.7 368.1,351.5 391.5,341.8 414.6,331.6 437.4,320.9 459.9,309.7 482.2,298.0 504.2,285.8 526.0,273.1 547.6,259.9 568.9,246.2 590.1,232.0 611.0,217.4 631.7,202.4 652.2,186.8 672.5,170.8 692.7,154.3 712.7,137.4 732.5,120.1"/><polyline points="805.5,492.4 783.2,459.4 761.1,428.5 739.1,399.8 717.2,373.3 695.5,348.9 673.9,326.6 652.5,306.4 631.3,288.2 610.3,272.2 589.5,258.2 568.9,246.2 548.6,236.2 528.5,228.2 508.6,222.1 489.0,217.9 469.7,215.6 450.6,215.1 431.8,216.4 413.3,219.5 395.1,224.3"/><polyline points="276.1,367.5 300.4,359.4 324.3,350.7 348.0,341.5 371.3,331.9 394.4,321.6 417.2,310.9 439.7,299.7 462.0,288.0 484.0,275.8 505.7,263.1 527.3,249.9 548.6,236.2 569.7,222.1 590.6,207.5 611.3,192.4 631.8,176.8 652.1,160.9 672.2,144.4 692.2,127.5 712.0,110.2"/><polyline points="826.4,477.6 804.2,444.7 782.1,414.0 760.1,385.4 738.3,358.9 716.6,334.5 695.0,312.3 673.7,292.1 652.5,274.0 631.4,258.0 610.6,244.0 590.1,232.0 569.7,222.1 549.6,214.0 529.7,207.9 510.0,203.7 490.6,201.4 471.5,200.9 452.7,202.2 434.1,205.2 415.8,210.0"/><polyline points="256.4,359.6 280.6,351.5 304.6,342.8 328.2,333.6 351.5,323.9 374.5,313.7 397.3,302.9 419.7,291.7 442.0,280.0 463.9,267.7 485.7,255.0 507.2,241.8 528.5,228.2 549.6,214.0 570.4,199.4 591.1,184.4 611.6,168.8 631.9,152.8 652.0,136.4 671.9,119.5 691.7,102.2"/><polyline points="847.1,462.3 825.0,429.6 802.9,398.9 781.0,370.4 759.2,344.0 737.5,319.7 715.9,297.5 694.6,277.4 673.4,259.3 652.4,243.4 631.6,229.4 611.0,217.4 590.6,207.5 570.4,199.4 550.5,193.3 530.8,189.1 511.4,186.8 492.2,186.2 473.3,187.5 454.7,190.5 436.3,195.2"/><polyline points="237.0,353.8 261.2,345.6 285.1,336.9 308.7,327.7 331.9,318.0 354.9,307.7 377.6,296.9 400.1,285.7 422.2,273.9 444.2,261.7 465.9,249.0 487.4,235.8 508.6,222.1 529.7,207.9 550.5,193.3 571.1,178.3 591.6,162.7 611.8,146.7 631.9,130.3 651.8,113.4 671.6,96.1"/><polyline points="867.6,446.6 845.5,414.0 823.5,383.4 801.6,355.0 779.8,328.6 758.2,304.4 736.7,282.3 715.3,262.2 694.1,244.2 673.1,228.2 652.3,214.3 631.7,202.4 611.3,192.4 591.1,184.4 571.1,178.3 551.4,174.0 531.9,171.7 512.7,171.1 493.8,172.3 475.1,175.3 456.7,180.0"/><polyline points="218.0,350.0 242.1,341.8 265.9,333.0 289.5,323.8 312.7,314.0 335.6,303.7 358.3,292.9 380.7,281.6 402.8,269.8 424.7,257.5 446.4,244.8 467.8,231.6 489.0,217.9 510.0,203.7 530.8,189.1 551.4,174.0 571.8,158.5 592.0,142.5 612.1,126.1 632.0,109.2 651.7,91.8"/><polyline points="888.0,430.5 865.9,397.9 843.9,367.4 822.1,339.1 800.3,312.8 778.7,288.6 757.2,266.5 735.8,246.5 714.7,228.6 693.7,212.6 672.8,198.7 652.2,186.8 631.8,176.8 611.6,168.8 591.6,162.7 571.8,158.5 552.3,156.1 533.0,155.5 514.0,156.8 495.3,159.7 476.8,164.4"/><polyline points="199.3,348.1 223.4,339.9 247.1,331.1 270.6,321.7 293.7,311.9 316.6,301.6 339.2,290.7 361.6,279.4 383.7,267.6 405.5,255.3 427.1,242.5 448.5,229.3 469.7,215.6 490.6,201.4 511.4,186.8 531.9,171.7 552.3,156.1 572.5,140.1 592.5,123.7 612.3,106.8 632.0,89.4"/><polyline points="908.1,413.9 886.1,381.4 864.2,351.0 842.3,322.7 820.6,296.5 799.0,272.4 777.5,250.4 756.2,230.4 735.0,212.5 714.0,196.6 693.2,182.7 672.5,170.8 652.1,160.9 631.9,152.8 611.8,146.7 592.0,142.5 572.5,140.1 553.2,139.5 534.1,140.7 515.3,143.7 496.8,148.3"/><polyline points="181.0,348.2 205.0,339.9 228.6,331.0 252.0,321.6 275.1,311.7 297.9,301.4 320.5,290.5 342.8,279.1 364.8,267.2 386.6,254.9 408.2,242.1 429.5,228.8 450.6,215.1 471.5,200.9 492.2,186.2 512.7,171.1 533.0,155.5 553.2,139.5 573.1,123.1 592.9,106.2 612.6,88.8"/><polyline points="928.1,396.8 906.1,364.4 884.2,334.1 862.4,305.9 840.7,279.8 819.2,255.7 797.7,233.8 776.4,213.8 755.2,195.9 734.2,180.1 713.3,166.2 692.7,154.3 672.2,144.4 652.0,136.4 631.9,130.3 612.1,126.1 592.5,123.7 573.1,123.1 554.0,124.2 535.2,127.2 516.6,131.8"/><polyline points="163.0,350.2 186.9,341.7 210.5,332.8 233.8,323.4 256.8,313.4 279.6,303.0 302.1,292.0 324.3,280.6 346.2,268.7 368.0,256.3 389.5,243.5 410.8,230.2 431.8,216.4 452.7,202.2 473.3,187.5 493.8,172.3 514.0,156.8 534.1,140.7 554.0,124.2 573.8,107.3 593.4,90.0"/><polyline points="947.9,379.3 926.0,347.0 904.1,316.8 882.4,288.6 860.7,262.6 839.1,238.6 817.7,216.7 796.4,196.8 775.2,178.9 754.2,163.1 733.3,149.3 712.7,137.4 692.2,127.5 671.9,119.5 651.8,113.4 632.0,109.2 612.3,106.8 592.9,106.2 573.8,107.3 554.9,110.2 536.2,114.8"/><polyline points="145.3,354.0 169.2,345.5 192.7,336.4 215.9,326.9 238.9,316.9 261.5,306.4 283.9,295.4 306.1,283.9 328.0,272.0 349.7,259.5 371.1,246.6 392.3,233.3 413.3,219.5 434.1,205.2 454.7,190.5 475.1,175.3 495.3,159.7 515.3,143.7 535.2,127.2 554.9,110.2 574.4,92.9"/><polyline points="967.5,361.3 945.7,329.1 923.8,299.0 902.1,270.9 880.5,244.9 858.9,221.0 837.5,199.1 816.2,179.3 795.0,161.5 774.0,145.7 753.2,131.9 732.5,120.1 712.0,110.2 691.7,102.2 671.6,96.1 651.7,91.8 632.0,89.4 612.6,88.8 593.4,90.0 574.4,92.9 555.7,97.4"/><polyline points="128.1,359.5 151.8,350.9 175.2,341.8 198.4,332.2 221.2,322.1 243.8,311.6 266.2,300.5 288.2,289.0 310.1,276.9 331.7,264.5 353.0,251.5 374.2,238.1 395.1,224.3 415.8,210.0 436.3,195.2 456.7,180.0 476.8,164.4 496.8,148.3 516.6,131.8 536.2,114.8 555.7,97.4"/></g><g fill="#000"><polygon points="136.3,522.1 139.6,525.4 136.3,528.7 133.0,525.4"/><polygon points="132.1,438.1 135.4,441.4 132.1,444.7 128.8,441.4"/><polygon points="128.0,354.1 131.3,357.4 128.0,360.7 124.7,357.4"/><polygon points="123.8,270.0 127.1,273.3 123.8,276.6 120.5,273.3"/><polygon points="119.7,186.0 123.0,189.3 119.7,192.6 116.4,189.3"/><polygon points="115.5,102.0 118.8,105.3 115.5,108.6 112.2,105.3"/><polygon points="142.8,653.2 146.1,656.5 142.8,659.8 139.5,656.5"/><polygon points="240.8,704.1 244.1,707.4 240.8,710.6 237.5,707.4"/><polygon points="338.9,754.9 342.2,758.2 338.9,761.5 335.6,758.2"/><polygon points="436.9,805.8 440.2,809.0 436.9,812.3 433.6,809.0"/><polygon points="534.9,856.6 538.2,859.9 534.9,863.2 531.6,859.9"/><polygon points="639.1,808.0 642.4,811.3 639.1,814.6 635.8,811.3"/><polygon points="743.3,759.5 746.6,762.8 743.3,766.0 740.0,762.8"/><polygon points="847.6,710.9 850.9,714.2 847.6,717.5 844.3,714.2"/><polygon points="951.8,662.3 955.1,665.6 951.8,668.9 948.5,665.6"/></g><g font-family="Liberation Sans, Arial, Helvetica, sans-serif" fill="#111"><text x="105.3" y="101.2" text-anchor="end" font-size="20">44</text><text x="109.2" y="186.1" text-anchor="end" font-size="20">43</text><text x="114.6" y="269.4" text-anchor="end" font-size="20">42</text><text x="116.8" y="353.4" text-anchor="end" font-size="20">41</text><text x="122.4" y="437.4" text-anchor="end" font-size="20">40</text><text x="126.2" y="521.6" text-anchor="end" font-size="20">39</text><text x="123.0" y="675.1" text-anchor="middle" font-size="20">-1</text><text x="214.9" y="725.6" text-anchor="middle" font-size="20">-0.5</text><text x="323.3" y="775.5" text-anchor="middle" font-size="20">0</text><text x="413.8" y="828.3" text-anchor="middle" font-size="20">0.5</text><text x="519.0" y="878.4" text-anchor="middle" font-size="20">1</text><text x="549.3" y="878.4" text-anchor="middle" font-size="20">1</text><text x="662.8" y="829.7" text-anchor="middle" font-size="20">0.5</text><text x="758.2" y="781.2" text-anchor="middle" font-size="20">0</text><text x="874.3" y="733.0" text-anchor="middle" font-size="20">-0.5</text><text x="970.2" y="683.7" text-anchor="middle" font-size="20">-1</text><text x="23.8" y="836.6" font-size="27">C: Basalt fiber dosage (%)</text><text x="824.5" y="845.4" font-size="27">A: W/B ratio</text><text transform="translate(20.5,559.6) rotate(-90)" font-size="27">Compressive strength (MPa)</text></g></svg></div></body></html>
